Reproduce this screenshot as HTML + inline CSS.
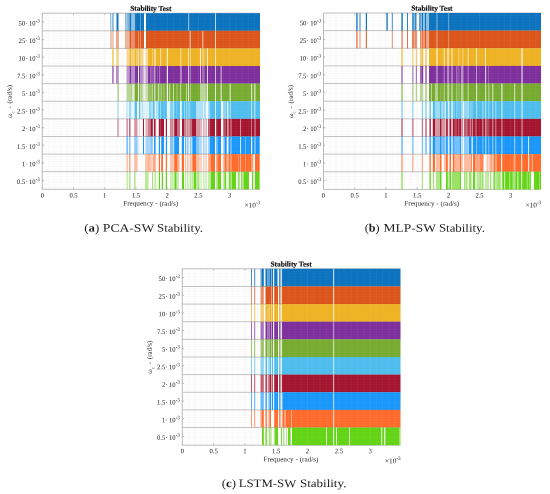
<!DOCTYPE html>
<html><head><meta charset="utf-8"><title>Stability Test</title>
<style>html,body{margin:0;padding:0;background:#fff}svg{display:block}text{font-family:"Liberation Serif","DejaVu Serif",serif}</style>
</head><body>
<svg width="550" height="494" viewBox="0 0 550 494">
<rect width="550" height="494" fill="#fff"/>
<g>
<line x1="42.30" y1="13.2" x2="42.30" y2="189.3" stroke="#ebebeb" stroke-width="0.5"/>
<line x1="48.55" y1="13.2" x2="48.55" y2="189.3" stroke="#f4f4f4" stroke-width="0.5"/>
<line x1="54.79" y1="13.2" x2="54.79" y2="189.3" stroke="#f4f4f4" stroke-width="0.5"/>
<line x1="61.04" y1="13.2" x2="61.04" y2="189.3" stroke="#f4f4f4" stroke-width="0.5"/>
<line x1="67.29" y1="13.2" x2="67.29" y2="189.3" stroke="#f4f4f4" stroke-width="0.5"/>
<line x1="73.53" y1="13.2" x2="73.53" y2="189.3" stroke="#ebebeb" stroke-width="0.5"/>
<line x1="79.78" y1="13.2" x2="79.78" y2="189.3" stroke="#f4f4f4" stroke-width="0.5"/>
<line x1="86.03" y1="13.2" x2="86.03" y2="189.3" stroke="#f4f4f4" stroke-width="0.5"/>
<line x1="92.27" y1="13.2" x2="92.27" y2="189.3" stroke="#f4f4f4" stroke-width="0.5"/>
<line x1="98.52" y1="13.2" x2="98.52" y2="189.3" stroke="#f4f4f4" stroke-width="0.5"/>
<line x1="104.77" y1="13.2" x2="104.77" y2="189.3" stroke="#ebebeb" stroke-width="0.5"/>
<line x1="111.01" y1="13.2" x2="111.01" y2="189.3" stroke="#f4f4f4" stroke-width="0.5"/>
<line x1="117.26" y1="13.2" x2="117.26" y2="189.3" stroke="#f4f4f4" stroke-width="0.5"/>
<line x1="123.51" y1="13.2" x2="123.51" y2="189.3" stroke="#f4f4f4" stroke-width="0.5"/>
<line x1="129.75" y1="13.2" x2="129.75" y2="189.3" stroke="#f4f4f4" stroke-width="0.5"/>
<line x1="136.00" y1="13.2" x2="136.00" y2="189.3" stroke="#ebebeb" stroke-width="0.5"/>
<line x1="142.25" y1="13.2" x2="142.25" y2="189.3" stroke="#f4f4f4" stroke-width="0.5"/>
<line x1="148.50" y1="13.2" x2="148.50" y2="189.3" stroke="#f4f4f4" stroke-width="0.5"/>
<line x1="154.74" y1="13.2" x2="154.74" y2="189.3" stroke="#f4f4f4" stroke-width="0.5"/>
<line x1="160.99" y1="13.2" x2="160.99" y2="189.3" stroke="#f4f4f4" stroke-width="0.5"/>
<line x1="167.24" y1="13.2" x2="167.24" y2="189.3" stroke="#ebebeb" stroke-width="0.5"/>
<line x1="173.48" y1="13.2" x2="173.48" y2="189.3" stroke="#f4f4f4" stroke-width="0.5"/>
<line x1="179.73" y1="13.2" x2="179.73" y2="189.3" stroke="#f4f4f4" stroke-width="0.5"/>
<line x1="185.98" y1="13.2" x2="185.98" y2="189.3" stroke="#f4f4f4" stroke-width="0.5"/>
<line x1="192.22" y1="13.2" x2="192.22" y2="189.3" stroke="#f4f4f4" stroke-width="0.5"/>
<line x1="198.47" y1="13.2" x2="198.47" y2="189.3" stroke="#ebebeb" stroke-width="0.5"/>
<line x1="204.72" y1="13.2" x2="204.72" y2="189.3" stroke="#f4f4f4" stroke-width="0.5"/>
<line x1="210.96" y1="13.2" x2="210.96" y2="189.3" stroke="#f4f4f4" stroke-width="0.5"/>
<line x1="217.21" y1="13.2" x2="217.21" y2="189.3" stroke="#f4f4f4" stroke-width="0.5"/>
<line x1="223.46" y1="13.2" x2="223.46" y2="189.3" stroke="#f4f4f4" stroke-width="0.5"/>
<line x1="229.70" y1="13.2" x2="229.70" y2="189.3" stroke="#ebebeb" stroke-width="0.5"/>
<line x1="235.95" y1="13.2" x2="235.95" y2="189.3" stroke="#f4f4f4" stroke-width="0.5"/>
<line x1="242.20" y1="13.2" x2="242.20" y2="189.3" stroke="#f4f4f4" stroke-width="0.5"/>
<line x1="248.44" y1="13.2" x2="248.44" y2="189.3" stroke="#f4f4f4" stroke-width="0.5"/>
<line x1="254.69" y1="13.2" x2="254.69" y2="189.3" stroke="#f4f4f4" stroke-width="0.5"/>
<line x1="42.3" y1="15.72" x2="260.0" y2="15.72" stroke="#f5f5f5" stroke-width="0.5"/>
<line x1="42.3" y1="18.23" x2="260.0" y2="18.23" stroke="#f5f5f5" stroke-width="0.5"/>
<line x1="42.3" y1="20.75" x2="260.0" y2="20.75" stroke="#f5f5f5" stroke-width="0.5"/>
<line x1="42.3" y1="23.26" x2="260.0" y2="23.26" stroke="#f5f5f5" stroke-width="0.5"/>
<line x1="42.3" y1="25.78" x2="260.0" y2="25.78" stroke="#f5f5f5" stroke-width="0.5"/>
<line x1="42.3" y1="28.29" x2="260.0" y2="28.29" stroke="#f5f5f5" stroke-width="0.5"/>
<line x1="42.3" y1="33.33" x2="260.0" y2="33.33" stroke="#f5f5f5" stroke-width="0.5"/>
<line x1="42.3" y1="35.84" x2="260.0" y2="35.84" stroke="#f5f5f5" stroke-width="0.5"/>
<line x1="42.3" y1="38.36" x2="260.0" y2="38.36" stroke="#f5f5f5" stroke-width="0.5"/>
<line x1="42.3" y1="40.87" x2="260.0" y2="40.87" stroke="#f5f5f5" stroke-width="0.5"/>
<line x1="42.3" y1="43.39" x2="260.0" y2="43.39" stroke="#f5f5f5" stroke-width="0.5"/>
<line x1="42.3" y1="45.90" x2="260.0" y2="45.90" stroke="#f5f5f5" stroke-width="0.5"/>
<line x1="42.3" y1="50.94" x2="260.0" y2="50.94" stroke="#f5f5f5" stroke-width="0.5"/>
<line x1="42.3" y1="53.45" x2="260.0" y2="53.45" stroke="#f5f5f5" stroke-width="0.5"/>
<line x1="42.3" y1="55.97" x2="260.0" y2="55.97" stroke="#f5f5f5" stroke-width="0.5"/>
<line x1="42.3" y1="58.48" x2="260.0" y2="58.48" stroke="#f5f5f5" stroke-width="0.5"/>
<line x1="42.3" y1="61.00" x2="260.0" y2="61.00" stroke="#f5f5f5" stroke-width="0.5"/>
<line x1="42.3" y1="63.51" x2="260.0" y2="63.51" stroke="#f5f5f5" stroke-width="0.5"/>
<line x1="42.3" y1="68.55" x2="260.0" y2="68.55" stroke="#f5f5f5" stroke-width="0.5"/>
<line x1="42.3" y1="71.06" x2="260.0" y2="71.06" stroke="#f5f5f5" stroke-width="0.5"/>
<line x1="42.3" y1="73.58" x2="260.0" y2="73.58" stroke="#f5f5f5" stroke-width="0.5"/>
<line x1="42.3" y1="76.09" x2="260.0" y2="76.09" stroke="#f5f5f5" stroke-width="0.5"/>
<line x1="42.3" y1="78.61" x2="260.0" y2="78.61" stroke="#f5f5f5" stroke-width="0.5"/>
<line x1="42.3" y1="81.12" x2="260.0" y2="81.12" stroke="#f5f5f5" stroke-width="0.5"/>
<line x1="42.3" y1="86.16" x2="260.0" y2="86.16" stroke="#f5f5f5" stroke-width="0.5"/>
<line x1="42.3" y1="88.67" x2="260.0" y2="88.67" stroke="#f5f5f5" stroke-width="0.5"/>
<line x1="42.3" y1="91.19" x2="260.0" y2="91.19" stroke="#f5f5f5" stroke-width="0.5"/>
<line x1="42.3" y1="93.70" x2="260.0" y2="93.70" stroke="#f5f5f5" stroke-width="0.5"/>
<line x1="42.3" y1="96.22" x2="260.0" y2="96.22" stroke="#f5f5f5" stroke-width="0.5"/>
<line x1="42.3" y1="98.73" x2="260.0" y2="98.73" stroke="#f5f5f5" stroke-width="0.5"/>
<line x1="42.3" y1="103.77" x2="260.0" y2="103.77" stroke="#f5f5f5" stroke-width="0.5"/>
<line x1="42.3" y1="106.28" x2="260.0" y2="106.28" stroke="#f5f5f5" stroke-width="0.5"/>
<line x1="42.3" y1="108.80" x2="260.0" y2="108.80" stroke="#f5f5f5" stroke-width="0.5"/>
<line x1="42.3" y1="111.31" x2="260.0" y2="111.31" stroke="#f5f5f5" stroke-width="0.5"/>
<line x1="42.3" y1="113.83" x2="260.0" y2="113.83" stroke="#f5f5f5" stroke-width="0.5"/>
<line x1="42.3" y1="116.34" x2="260.0" y2="116.34" stroke="#f5f5f5" stroke-width="0.5"/>
<line x1="42.3" y1="121.38" x2="260.0" y2="121.38" stroke="#f5f5f5" stroke-width="0.5"/>
<line x1="42.3" y1="123.89" x2="260.0" y2="123.89" stroke="#f5f5f5" stroke-width="0.5"/>
<line x1="42.3" y1="126.41" x2="260.0" y2="126.41" stroke="#f5f5f5" stroke-width="0.5"/>
<line x1="42.3" y1="128.92" x2="260.0" y2="128.92" stroke="#f5f5f5" stroke-width="0.5"/>
<line x1="42.3" y1="131.44" x2="260.0" y2="131.44" stroke="#f5f5f5" stroke-width="0.5"/>
<line x1="42.3" y1="133.95" x2="260.0" y2="133.95" stroke="#f5f5f5" stroke-width="0.5"/>
<line x1="42.3" y1="138.99" x2="260.0" y2="138.99" stroke="#f5f5f5" stroke-width="0.5"/>
<line x1="42.3" y1="141.50" x2="260.0" y2="141.50" stroke="#f5f5f5" stroke-width="0.5"/>
<line x1="42.3" y1="144.02" x2="260.0" y2="144.02" stroke="#f5f5f5" stroke-width="0.5"/>
<line x1="42.3" y1="146.53" x2="260.0" y2="146.53" stroke="#f5f5f5" stroke-width="0.5"/>
<line x1="42.3" y1="149.05" x2="260.0" y2="149.05" stroke="#f5f5f5" stroke-width="0.5"/>
<line x1="42.3" y1="151.56" x2="260.0" y2="151.56" stroke="#f5f5f5" stroke-width="0.5"/>
<line x1="42.3" y1="156.60" x2="260.0" y2="156.60" stroke="#f5f5f5" stroke-width="0.5"/>
<line x1="42.3" y1="159.11" x2="260.0" y2="159.11" stroke="#f5f5f5" stroke-width="0.5"/>
<line x1="42.3" y1="161.63" x2="260.0" y2="161.63" stroke="#f5f5f5" stroke-width="0.5"/>
<line x1="42.3" y1="164.14" x2="260.0" y2="164.14" stroke="#f5f5f5" stroke-width="0.5"/>
<line x1="42.3" y1="166.66" x2="260.0" y2="166.66" stroke="#f5f5f5" stroke-width="0.5"/>
<line x1="42.3" y1="169.17" x2="260.0" y2="169.17" stroke="#f5f5f5" stroke-width="0.5"/>
<line x1="42.3" y1="174.21" x2="260.0" y2="174.21" stroke="#f5f5f5" stroke-width="0.5"/>
<line x1="42.3" y1="176.72" x2="260.0" y2="176.72" stroke="#f5f5f5" stroke-width="0.5"/>
<line x1="42.3" y1="179.24" x2="260.0" y2="179.24" stroke="#f5f5f5" stroke-width="0.5"/>
<line x1="42.3" y1="181.75" x2="260.0" y2="181.75" stroke="#f5f5f5" stroke-width="0.5"/>
<line x1="42.3" y1="184.27" x2="260.0" y2="184.27" stroke="#f5f5f5" stroke-width="0.5"/>
<line x1="42.3" y1="186.78" x2="260.0" y2="186.78" stroke="#f5f5f5" stroke-width="0.5"/>
<line x1="42.3" y1="30.81" x2="260.0" y2="30.81" stroke="#c0c0c0" stroke-width="1"/>
<line x1="42.3" y1="48.42" x2="260.0" y2="48.42" stroke="#c0c0c0" stroke-width="1"/>
<line x1="42.3" y1="66.03" x2="260.0" y2="66.03" stroke="#c0c0c0" stroke-width="1"/>
<line x1="42.3" y1="83.64" x2="260.0" y2="83.64" stroke="#c0c0c0" stroke-width="1"/>
<line x1="42.3" y1="101.25" x2="260.0" y2="101.25" stroke="#c0c0c0" stroke-width="1"/>
<line x1="42.3" y1="118.86" x2="260.0" y2="118.86" stroke="#c0c0c0" stroke-width="1"/>
<line x1="42.3" y1="136.47" x2="260.0" y2="136.47" stroke="#c0c0c0" stroke-width="1"/>
<line x1="42.3" y1="154.08" x2="260.0" y2="154.08" stroke="#c0c0c0" stroke-width="1"/>
<line x1="42.3" y1="171.69" x2="260.0" y2="171.69" stroke="#c0c0c0" stroke-width="1"/>
<line x1="42.30" y1="189.3" x2="42.30" y2="187.5" stroke="#777" stroke-width="0.5"/>
<line x1="42.30" y1="13.2" x2="42.30" y2="15.0" stroke="#777" stroke-width="0.5"/>
<line x1="73.53" y1="189.3" x2="73.53" y2="187.5" stroke="#777" stroke-width="0.5"/>
<line x1="73.53" y1="13.2" x2="73.53" y2="15.0" stroke="#777" stroke-width="0.5"/>
<line x1="104.77" y1="189.3" x2="104.77" y2="187.5" stroke="#777" stroke-width="0.5"/>
<line x1="104.77" y1="13.2" x2="104.77" y2="15.0" stroke="#777" stroke-width="0.5"/>
<line x1="136.00" y1="189.3" x2="136.00" y2="187.5" stroke="#777" stroke-width="0.5"/>
<line x1="136.00" y1="13.2" x2="136.00" y2="15.0" stroke="#777" stroke-width="0.5"/>
<line x1="167.24" y1="189.3" x2="167.24" y2="187.5" stroke="#777" stroke-width="0.5"/>
<line x1="167.24" y1="13.2" x2="167.24" y2="15.0" stroke="#777" stroke-width="0.5"/>
<line x1="198.47" y1="189.3" x2="198.47" y2="187.5" stroke="#777" stroke-width="0.5"/>
<line x1="198.47" y1="13.2" x2="198.47" y2="15.0" stroke="#777" stroke-width="0.5"/>
<line x1="229.70" y1="189.3" x2="229.70" y2="187.5" stroke="#777" stroke-width="0.5"/>
<line x1="229.70" y1="13.2" x2="229.70" y2="15.0" stroke="#777" stroke-width="0.5"/>
<path d="M42.3 13.2H260.0M42.3 13.2V189.3H260.0" fill="none" stroke="#bcbcbc" stroke-width="1"/>
<rect x="110.00" y="13.20" width="1.20" height="17.61" fill="#0A72BE" fill-opacity="0.42"/>
<rect x="111.80" y="13.20" width="2.00" height="17.61" fill="#0A72BE" fill-opacity="0.48"/>
<rect x="116.50" y="13.20" width="2.00" height="17.61" fill="#0A72BE" fill-opacity="1"/>
<rect x="125.00" y="13.20" width="1.50" height="17.61" fill="#0A72BE" fill-opacity="0.48"/>
<rect x="126.50" y="13.20" width="0.70" height="17.61" fill="#0A72BE" fill-opacity="0.3"/>
<rect x="127.20" y="13.20" width="2.30" height="17.61" fill="#0A72BE" fill-opacity="0.55"/>
<rect x="129.50" y="13.20" width="1.70" height="17.61" fill="#0A72BE" fill-opacity="1"/>
<rect x="131.20" y="13.20" width="3.80" height="17.61" fill="#0A72BE" fill-opacity="0.44"/>
<rect x="135.00" y="13.20" width="5.00" height="17.61" fill="#0A72BE" fill-opacity="1"/>
<rect x="140.00" y="13.20" width="0.50" height="17.61" fill="#0A72BE" fill-opacity="0.72"/>
<rect x="140.50" y="13.20" width="3.50" height="17.61" fill="#0A72BE" fill-opacity="1"/>
<rect x="146.00" y="13.20" width="114.00" height="17.61" fill="#0A72BE" fill-opacity="1"/>
<rect x="188.20" y="13.20" width="1.00" height="17.61" fill="#fff" fill-opacity="0.6"/>
<rect x="215.00" y="13.20" width="0.80" height="17.61" fill="#fff" fill-opacity="0.9"/>
<rect x="110.00" y="30.81" width="3.80" height="17.61" fill="#DC541A" fill-opacity="0.33"/>
<rect x="116.00" y="30.81" width="3.00" height="17.61" fill="#DC541A" fill-opacity="0.5"/>
<rect x="125.00" y="30.81" width="4.50" height="17.61" fill="#DC541A" fill-opacity="0.44"/>
<rect x="129.50" y="30.81" width="1.70" height="17.61" fill="#DC541A" fill-opacity="1"/>
<rect x="131.20" y="30.81" width="3.80" height="17.61" fill="#DC541A" fill-opacity="0.66"/>
<rect x="135.00" y="30.81" width="3.00" height="17.61" fill="#DC541A" fill-opacity="1"/>
<rect x="138.00" y="30.81" width="0.70" height="17.61" fill="#DC541A" fill-opacity="0.72"/>
<rect x="138.70" y="30.81" width="1.30" height="17.61" fill="#DC541A" fill-opacity="1"/>
<rect x="140.00" y="30.81" width="0.60" height="17.61" fill="#DC541A" fill-opacity="0.72"/>
<rect x="140.60" y="30.81" width="3.40" height="17.61" fill="#DC541A" fill-opacity="1"/>
<rect x="146.00" y="30.81" width="114.00" height="17.61" fill="#DC541A" fill-opacity="1"/>
<rect x="189.50" y="30.81" width="1.50" height="17.61" fill="#fff" fill-opacity="0.5"/>
<rect x="202.00" y="30.81" width="1.50" height="17.61" fill="#fff" fill-opacity="0.45"/>
<rect x="215.00" y="30.81" width="0.80" height="17.61" fill="#fff" fill-opacity="0.9"/>
<rect x="112.00" y="48.42" width="1.80" height="17.61" fill="#EEB222" fill-opacity="0.6"/>
<rect x="116.20" y="48.42" width="2.60" height="17.61" fill="#EEB222" fill-opacity="0.55"/>
<rect x="126.50" y="48.42" width="3.00" height="17.61" fill="#EEB222" fill-opacity="0.5"/>
<rect x="129.50" y="48.42" width="1.70" height="17.61" fill="#EEB222" fill-opacity="1"/>
<rect x="131.20" y="48.42" width="3.80" height="17.61" fill="#EEB222" fill-opacity="0.61"/>
<rect x="135.00" y="48.42" width="1.20" height="17.61" fill="#EEB222" fill-opacity="1"/>
<rect x="136.20" y="48.42" width="1.80" height="17.61" fill="#EEB222" fill-opacity="0.72"/>
<rect x="138.70" y="48.42" width="1.30" height="17.61" fill="#EEB222" fill-opacity="1"/>
<rect x="140.00" y="48.42" width="3.50" height="17.61" fill="#EEB222" fill-opacity="0.55"/>
<rect x="145.50" y="48.42" width="2.50" height="17.61" fill="#EEB222" fill-opacity="0.44"/>
<rect x="148.00" y="48.42" width="4.00" height="17.61" fill="#EEB222" fill-opacity="1"/>
<rect x="152.00" y="48.42" width="0.80" height="17.61" fill="#EEB222" fill-opacity="0.72"/>
<rect x="152.80" y="48.42" width="1.40" height="17.61" fill="#EEB222" fill-opacity="1"/>
<rect x="154.20" y="48.42" width="1.40" height="17.61" fill="#EEB222" fill-opacity="0.36"/>
<rect x="155.60" y="48.42" width="104.40" height="17.61" fill="#EEB222" fill-opacity="1"/>
<rect x="160.00" y="48.42" width="1.20" height="17.61" fill="#fff" fill-opacity="0.5"/>
<rect x="166.80" y="48.42" width="1.00" height="17.61" fill="#fff" fill-opacity="0.9"/>
<rect x="180.00" y="48.42" width="1.50" height="17.61" fill="#fff" fill-opacity="0.4"/>
<rect x="188.00" y="48.42" width="1.00" height="17.61" fill="#fff" fill-opacity="0.7"/>
<rect x="190.00" y="48.42" width="0.80" height="17.61" fill="#fff" fill-opacity="0.5"/>
<rect x="200.00" y="48.42" width="1.00" height="17.61" fill="#fff" fill-opacity="0.8"/>
<rect x="202.00" y="48.42" width="2.50" height="17.61" fill="#fff" fill-opacity="0.3"/>
<rect x="207.00" y="48.42" width="1.00" height="17.61" fill="#fff" fill-opacity="0.8"/>
<rect x="215.00" y="48.42" width="0.80" height="17.61" fill="#fff" fill-opacity="0.85"/>
<rect x="112.00" y="66.03" width="1.80" height="17.61" fill="#7D2E9C" fill-opacity="0.6"/>
<rect x="116.00" y="66.03" width="2.80" height="17.61" fill="#7D2E9C" fill-opacity="0.55"/>
<rect x="126.50" y="66.03" width="3.00" height="17.61" fill="#7D2E9C" fill-opacity="0.5"/>
<rect x="129.50" y="66.03" width="1.70" height="17.61" fill="#7D2E9C" fill-opacity="1"/>
<rect x="131.20" y="66.03" width="3.80" height="17.61" fill="#7D2E9C" fill-opacity="0.55"/>
<rect x="135.00" y="66.03" width="3.00" height="17.61" fill="#7D2E9C" fill-opacity="1"/>
<rect x="139.00" y="66.03" width="1.20" height="17.61" fill="#7D2E9C" fill-opacity="1"/>
<rect x="140.20" y="66.03" width="3.30" height="17.61" fill="#7D2E9C" fill-opacity="0.55"/>
<rect x="143.50" y="66.03" width="2.00" height="17.61" fill="#7D2E9C" fill-opacity="0.18"/>
<rect x="145.50" y="66.03" width="2.50" height="17.61" fill="#7D2E9C" fill-opacity="0.44"/>
<rect x="148.00" y="66.03" width="2.50" height="17.61" fill="#7D2E9C" fill-opacity="1"/>
<rect x="150.50" y="66.03" width="3.50" height="17.61" fill="#7D2E9C" fill-opacity="0.83"/>
<rect x="154.00" y="66.03" width="0.80" height="17.61" fill="#7D2E9C" fill-opacity="0.48"/>
<rect x="154.80" y="66.03" width="1.20" height="17.61" fill="#7D2E9C" fill-opacity="1"/>
<rect x="156.00" y="66.03" width="104.00" height="17.61" fill="#7D2E9C" fill-opacity="1"/>
<rect x="155.00" y="66.03" width="0.80" height="17.61" fill="#fff" fill-opacity="0.3"/>
<rect x="157.50" y="66.03" width="0.50" height="17.61" fill="#fff" fill-opacity="0.3"/>
<rect x="159.00" y="66.03" width="0.80" height="17.61" fill="#fff" fill-opacity="0.4"/>
<rect x="166.80" y="66.03" width="1.20" height="17.61" fill="#fff" fill-opacity="0.9"/>
<rect x="180.00" y="66.03" width="2.00" height="17.61" fill="#fff" fill-opacity="0.4"/>
<rect x="188.00" y="66.03" width="1.20" height="17.61" fill="#fff" fill-opacity="0.7"/>
<rect x="190.00" y="66.03" width="0.80" height="17.61" fill="#fff" fill-opacity="0.4"/>
<rect x="200.00" y="66.03" width="1.00" height="17.61" fill="#fff" fill-opacity="0.7"/>
<rect x="202.00" y="66.03" width="2.50" height="17.61" fill="#fff" fill-opacity="0.3"/>
<rect x="207.00" y="66.03" width="1.00" height="17.61" fill="#fff" fill-opacity="0.8"/>
<rect x="215.00" y="66.03" width="0.80" height="17.61" fill="#fff" fill-opacity="0.85"/>
<rect x="220.50" y="66.03" width="1.30" height="17.61" fill="#fff" fill-opacity="0.55"/>
<rect x="117.50" y="83.64" width="1.30" height="17.61" fill="#76AB2F" fill-opacity="0.66"/>
<rect x="126.50" y="83.64" width="4.70" height="17.61" fill="#76AB2F" fill-opacity="0.5"/>
<rect x="131.20" y="83.64" width="1.00" height="17.61" fill="#76AB2F" fill-opacity="0.66"/>
<rect x="132.20" y="83.64" width="1.80" height="17.61" fill="#76AB2F" fill-opacity="0.18"/>
<rect x="134.00" y="83.64" width="1.00" height="17.61" fill="#76AB2F" fill-opacity="0.48"/>
<rect x="135.00" y="83.64" width="3.00" height="17.61" fill="#76AB2F" fill-opacity="1"/>
<rect x="139.00" y="83.64" width="1.20" height="17.61" fill="#76AB2F" fill-opacity="1"/>
<rect x="140.20" y="83.64" width="1.00" height="17.61" fill="#76AB2F" fill-opacity="0.36"/>
<rect x="141.20" y="83.64" width="1.00" height="17.61" fill="#76AB2F" fill-opacity="0.72"/>
<rect x="142.20" y="83.64" width="1.30" height="17.61" fill="#76AB2F" fill-opacity="0.36"/>
<rect x="143.50" y="83.64" width="2.00" height="17.61" fill="#76AB2F" fill-opacity="0.12"/>
<rect x="145.50" y="83.64" width="2.50" height="17.61" fill="#76AB2F" fill-opacity="0.39"/>
<rect x="148.00" y="83.64" width="4.00" height="17.61" fill="#76AB2F" fill-opacity="0.77"/>
<rect x="152.00" y="83.64" width="0.80" height="17.61" fill="#76AB2F" fill-opacity="0.48"/>
<rect x="152.80" y="83.64" width="1.20" height="17.61" fill="#76AB2F" fill-opacity="1"/>
<rect x="154.00" y="83.64" width="1.00" height="17.61" fill="#76AB2F" fill-opacity="0.36"/>
<rect x="155.00" y="83.64" width="105.00" height="17.61" fill="#76AB2F" fill-opacity="1"/>
<rect x="155.00" y="83.64" width="0.80" height="17.61" fill="#fff" fill-opacity="0.4"/>
<rect x="157.80" y="83.64" width="1.00" height="17.61" fill="#fff" fill-opacity="0.7"/>
<rect x="159.50" y="83.64" width="1.00" height="17.61" fill="#fff" fill-opacity="0.4"/>
<rect x="161.20" y="83.64" width="1.00" height="17.61" fill="#fff" fill-opacity="0.4"/>
<rect x="163.50" y="83.64" width="1.00" height="17.61" fill="#fff" fill-opacity="0.4"/>
<rect x="166.80" y="83.64" width="1.20" height="17.61" fill="#fff" fill-opacity="0.95"/>
<rect x="169.00" y="83.64" width="1.20" height="17.61" fill="#fff" fill-opacity="0.5"/>
<rect x="173.00" y="83.64" width="1.00" height="17.61" fill="#fff" fill-opacity="0.6"/>
<rect x="176.50" y="83.64" width="1.00" height="17.61" fill="#fff" fill-opacity="0.35"/>
<rect x="180.00" y="83.64" width="1.20" height="17.61" fill="#fff" fill-opacity="0.5"/>
<rect x="186.00" y="83.64" width="1.00" height="17.61" fill="#fff" fill-opacity="0.5"/>
<rect x="188.00" y="83.64" width="1.00" height="17.61" fill="#fff" fill-opacity="0.8"/>
<rect x="190.00" y="83.64" width="0.80" height="17.61" fill="#fff" fill-opacity="0.5"/>
<rect x="200.00" y="83.64" width="4.50" height="17.61" fill="#fff" fill-opacity="0.5"/>
<rect x="204.50" y="83.64" width="1.00" height="17.61" fill="#fff" fill-opacity="0.8"/>
<rect x="206.50" y="83.64" width="1.50" height="17.61" fill="#fff" fill-opacity="0.85"/>
<rect x="215.00" y="83.64" width="1.00" height="17.61" fill="#fff" fill-opacity="0.8"/>
<rect x="220.50" y="83.64" width="1.30" height="17.61" fill="#fff" fill-opacity="0.7"/>
<rect x="229.50" y="83.64" width="1.50" height="17.61" fill="#fff" fill-opacity="0.55"/>
<rect x="251.00" y="83.64" width="1.20" height="17.61" fill="#fff" fill-opacity="0.7"/>
<rect x="254.00" y="83.64" width="1.50" height="17.61" fill="#fff" fill-opacity="0.6"/>
<rect x="117.50" y="101.25" width="1.00" height="17.61" fill="#4DBDEE" fill-opacity="0.66"/>
<rect x="126.50" y="101.25" width="1.00" height="17.61" fill="#4DBDEE" fill-opacity="0.48"/>
<rect x="127.50" y="101.25" width="1.50" height="17.61" fill="#4DBDEE" fill-opacity="0.12"/>
<rect x="129.00" y="101.25" width="2.20" height="17.61" fill="#4DBDEE" fill-opacity="0.55"/>
<rect x="131.20" y="101.25" width="2.80" height="17.61" fill="#4DBDEE" fill-opacity="0.11"/>
<rect x="134.00" y="101.25" width="1.00" height="17.61" fill="#4DBDEE" fill-opacity="0.48"/>
<rect x="135.00" y="101.25" width="2.00" height="17.61" fill="#4DBDEE" fill-opacity="1"/>
<rect x="139.00" y="101.25" width="1.20" height="17.61" fill="#4DBDEE" fill-opacity="1"/>
<rect x="140.20" y="101.25" width="2.00" height="17.61" fill="#4DBDEE" fill-opacity="0.18"/>
<rect x="142.20" y="101.25" width="0.80" height="17.61" fill="#4DBDEE" fill-opacity="0.48"/>
<rect x="143.00" y="101.25" width="6.00" height="17.61" fill="#4DBDEE" fill-opacity="0.17"/>
<rect x="149.00" y="101.25" width="2.50" height="17.61" fill="#4DBDEE" fill-opacity="0.66"/>
<rect x="151.50" y="101.25" width="1.30" height="17.61" fill="#4DBDEE" fill-opacity="0.36"/>
<rect x="152.80" y="101.25" width="1.70" height="17.61" fill="#4DBDEE" fill-opacity="1"/>
<rect x="154.50" y="101.25" width="0.50" height="17.61" fill="#4DBDEE" fill-opacity="0.3"/>
<rect x="155.00" y="101.25" width="105.00" height="17.61" fill="#4DBDEE" fill-opacity="1"/>
<rect x="155.00" y="101.25" width="1.20" height="17.61" fill="#fff" fill-opacity="0.8"/>
<rect x="156.20" y="101.25" width="2.30" height="17.61" fill="#fff" fill-opacity="0.6"/>
<rect x="160.00" y="101.25" width="1.00" height="17.61" fill="#fff" fill-opacity="0.4"/>
<rect x="163.50" y="101.25" width="1.00" height="17.61" fill="#fff" fill-opacity="0.2"/>
<rect x="166.80" y="101.25" width="3.20" height="17.61" fill="#fff" fill-opacity="0.85"/>
<rect x="170.00" y="101.25" width="3.00" height="17.61" fill="#fff" fill-opacity="0.3"/>
<rect x="173.00" y="101.25" width="1.20" height="17.61" fill="#fff" fill-opacity="0.6"/>
<rect x="176.50" y="101.25" width="0.70" height="17.61" fill="#fff" fill-opacity="0.3"/>
<rect x="180.00" y="101.25" width="1.80" height="17.61" fill="#fff" fill-opacity="0.9"/>
<rect x="184.00" y="101.25" width="1.00" height="17.61" fill="#fff" fill-opacity="0.4"/>
<rect x="186.20" y="101.25" width="1.00" height="17.61" fill="#fff" fill-opacity="0.5"/>
<rect x="188.50" y="101.25" width="1.00" height="17.61" fill="#fff" fill-opacity="0.6"/>
<rect x="190.50" y="101.25" width="0.70" height="17.61" fill="#fff" fill-opacity="0.2"/>
<rect x="196.00" y="101.25" width="7.00" height="17.61" fill="#fff" fill-opacity="0.55"/>
<rect x="203.00" y="101.25" width="1.20" height="17.61" fill="#fff" fill-opacity="0.8"/>
<rect x="204.20" y="101.25" width="1.80" height="17.61" fill="#fff" fill-opacity="0.55"/>
<rect x="206.00" y="101.25" width="2.20" height="17.61" fill="#fff" fill-opacity="0.95"/>
<rect x="208.20" y="101.25" width="1.60" height="17.61" fill="#fff" fill-opacity="0.5"/>
<rect x="215.00" y="101.25" width="1.00" height="17.61" fill="#fff" fill-opacity="0.8"/>
<rect x="221.00" y="101.25" width="2.00" height="17.61" fill="#fff" fill-opacity="0.95"/>
<rect x="223.00" y="101.25" width="3.00" height="17.61" fill="#fff" fill-opacity="0.35"/>
<rect x="226.80" y="101.25" width="1.70" height="17.61" fill="#fff" fill-opacity="0.8"/>
<rect x="229.80" y="101.25" width="1.20" height="17.61" fill="#fff" fill-opacity="0.5"/>
<rect x="251.00" y="101.25" width="1.20" height="17.61" fill="#fff" fill-opacity="0.6"/>
<rect x="254.00" y="101.25" width="1.50" height="17.61" fill="#fff" fill-opacity="0.5"/>
<rect x="117.50" y="118.86" width="1.00" height="17.61" fill="#A4142E" fill-opacity="0.66"/>
<rect x="126.50" y="118.86" width="1.30" height="17.61" fill="#A4142E" fill-opacity="0.54"/>
<rect x="129.00" y="118.86" width="1.50" height="17.61" fill="#A4142E" fill-opacity="0.66"/>
<rect x="134.00" y="118.86" width="1.00" height="17.61" fill="#A4142E" fill-opacity="0.36"/>
<rect x="135.00" y="118.86" width="2.50" height="17.61" fill="#A4142E" fill-opacity="0.44"/>
<rect x="139.00" y="118.86" width="1.20" height="17.61" fill="#A4142E" fill-opacity="0.12"/>
<rect x="143.00" y="118.86" width="1.00" height="17.61" fill="#A4142E" fill-opacity="1"/>
<rect x="145.50" y="118.86" width="2.50" height="17.61" fill="#A4142E" fill-opacity="0.33"/>
<rect x="148.00" y="118.86" width="2.50" height="17.61" fill="#A4142E" fill-opacity="0.55"/>
<rect x="150.50" y="118.86" width="2.30" height="17.61" fill="#A4142E" fill-opacity="1"/>
<rect x="152.80" y="118.86" width="1.20" height="17.61" fill="#A4142E" fill-opacity="0.12"/>
<rect x="154.00" y="118.86" width="1.50" height="17.61" fill="#A4142E" fill-opacity="1"/>
<rect x="155.50" y="118.86" width="0.70" height="17.61" fill="#A4142E" fill-opacity="0.36"/>
<rect x="158.80" y="118.86" width="1.20" height="17.61" fill="#A4142E" fill-opacity="1"/>
<rect x="160.00" y="118.86" width="1.00" height="17.61" fill="#A4142E" fill-opacity="0.84"/>
<rect x="161.00" y="118.86" width="3.00" height="17.61" fill="#A4142E" fill-opacity="1"/>
<rect x="165.80" y="118.86" width="1.20" height="17.61" fill="#A4142E" fill-opacity="1"/>
<rect x="170.00" y="118.86" width="3.00" height="17.61" fill="#A4142E" fill-opacity="0.5"/>
<rect x="173.00" y="118.86" width="1.20" height="17.61" fill="#A4142E" fill-opacity="0.3"/>
<rect x="174.20" y="118.86" width="3.30" height="17.61" fill="#A4142E" fill-opacity="1"/>
<rect x="177.50" y="118.86" width="2.50" height="17.61" fill="#A4142E" fill-opacity="0.61"/>
<rect x="182.00" y="118.86" width="2.00" height="17.61" fill="#A4142E" fill-opacity="1"/>
<rect x="184.00" y="118.86" width="2.20" height="17.61" fill="#A4142E" fill-opacity="0.55"/>
<rect x="186.20" y="118.86" width="1.00" height="17.61" fill="#A4142E" fill-opacity="0.3"/>
<rect x="187.20" y="118.86" width="1.30" height="17.61" fill="#A4142E" fill-opacity="0.6"/>
<rect x="188.50" y="118.86" width="1.00" height="17.61" fill="#A4142E" fill-opacity="0.24"/>
<rect x="189.50" y="118.86" width="1.30" height="17.61" fill="#A4142E" fill-opacity="0.72"/>
<rect x="190.80" y="118.86" width="0.70" height="17.61" fill="#A4142E" fill-opacity="0.36"/>
<rect x="191.50" y="118.86" width="4.50" height="17.61" fill="#A4142E" fill-opacity="1"/>
<rect x="196.00" y="118.86" width="4.00" height="17.61" fill="#A4142E" fill-opacity="0.44"/>
<rect x="200.00" y="118.86" width="2.00" height="17.61" fill="#A4142E" fill-opacity="0.3"/>
<rect x="203.00" y="118.86" width="1.50" height="17.61" fill="#A4142E" fill-opacity="0.36"/>
<rect x="205.50" y="118.86" width="1.30" height="17.61" fill="#A4142E" fill-opacity="0.4"/>
<rect x="208.00" y="118.86" width="1.80" height="17.61" fill="#A4142E" fill-opacity="0.72"/>
<rect x="209.80" y="118.86" width="5.20" height="17.61" fill="#A4142E" fill-opacity="1"/>
<rect x="216.20" y="118.86" width="4.80" height="17.61" fill="#A4142E" fill-opacity="1"/>
<rect x="223.20" y="118.86" width="2.80" height="17.61" fill="#A4142E" fill-opacity="0.77"/>
<rect x="226.00" y="118.86" width="1.00" height="17.61" fill="#A4142E" fill-opacity="1"/>
<rect x="227.00" y="118.86" width="1.50" height="17.61" fill="#A4142E" fill-opacity="0.42"/>
<rect x="228.50" y="118.86" width="1.50" height="17.61" fill="#A4142E" fill-opacity="1"/>
<rect x="230.00" y="118.86" width="1.80" height="17.61" fill="#A4142E" fill-opacity="0.72"/>
<rect x="231.80" y="118.86" width="8.20" height="17.61" fill="#A4142E" fill-opacity="1"/>
<rect x="240.00" y="118.86" width="0.80" height="17.61" fill="#A4142E" fill-opacity="0.48"/>
<rect x="240.80" y="118.86" width="10.20" height="17.61" fill="#A4142E" fill-opacity="1"/>
<rect x="251.00" y="118.86" width="1.00" height="17.61" fill="#A4142E" fill-opacity="0.6"/>
<rect x="252.00" y="118.86" width="2.00" height="17.61" fill="#A4142E" fill-opacity="1"/>
<rect x="254.00" y="118.86" width="1.50" height="17.61" fill="#A4142E" fill-opacity="0.72"/>
<rect x="255.50" y="118.86" width="4.50" height="17.61" fill="#A4142E" fill-opacity="1"/>
<rect x="126.50" y="136.47" width="1.30" height="17.61" fill="#1896FA" fill-opacity="0.72"/>
<rect x="129.00" y="136.47" width="1.50" height="17.61" fill="#1896FA" fill-opacity="0.54"/>
<rect x="134.00" y="136.47" width="1.00" height="17.61" fill="#1896FA" fill-opacity="0.36"/>
<rect x="135.00" y="136.47" width="2.50" height="17.61" fill="#1896FA" fill-opacity="0.5"/>
<rect x="137.50" y="136.47" width="2.00" height="17.61" fill="#1896FA" fill-opacity="0.12"/>
<rect x="143.00" y="136.47" width="1.00" height="17.61" fill="#1896FA" fill-opacity="1"/>
<rect x="145.50" y="136.47" width="5.00" height="17.61" fill="#1896FA" fill-opacity="0.39"/>
<rect x="150.50" y="136.47" width="2.30" height="17.61" fill="#1896FA" fill-opacity="0.55"/>
<rect x="154.00" y="136.47" width="1.50" height="17.61" fill="#1896FA" fill-opacity="1"/>
<rect x="155.50" y="136.47" width="0.70" height="17.61" fill="#1896FA" fill-opacity="0.36"/>
<rect x="158.80" y="136.47" width="1.20" height="17.61" fill="#1896FA" fill-opacity="1"/>
<rect x="161.20" y="136.47" width="2.80" height="17.61" fill="#1896FA" fill-opacity="1"/>
<rect x="165.80" y="136.47" width="1.20" height="17.61" fill="#1896FA" fill-opacity="1"/>
<rect x="170.00" y="136.47" width="3.00" height="17.61" fill="#1896FA" fill-opacity="0.55"/>
<rect x="173.00" y="136.47" width="1.20" height="17.61" fill="#1896FA" fill-opacity="0.3"/>
<rect x="174.20" y="136.47" width="4.80" height="17.61" fill="#1896FA" fill-opacity="1"/>
<rect x="181.80" y="136.47" width="2.20" height="17.61" fill="#1896FA" fill-opacity="1"/>
<rect x="185.00" y="136.47" width="1.20" height="17.61" fill="#1896FA" fill-opacity="0.72"/>
<rect x="187.20" y="136.47" width="1.30" height="17.61" fill="#1896FA" fill-opacity="0.6"/>
<rect x="189.80" y="136.47" width="1.00" height="17.61" fill="#1896FA" fill-opacity="0.6"/>
<rect x="191.60" y="136.47" width="1.40" height="17.61" fill="#1896FA" fill-opacity="0.72"/>
<rect x="193.00" y="136.47" width="3.00" height="17.61" fill="#1896FA" fill-opacity="1"/>
<rect x="196.00" y="136.47" width="3.00" height="17.61" fill="#1896FA" fill-opacity="0.55"/>
<rect x="199.00" y="136.47" width="3.00" height="17.61" fill="#1896FA" fill-opacity="0.33"/>
<rect x="203.20" y="136.47" width="1.30" height="17.61" fill="#1896FA" fill-opacity="0.48"/>
<rect x="205.50" y="136.47" width="1.30" height="17.61" fill="#1896FA" fill-opacity="0.42"/>
<rect x="208.20" y="136.47" width="1.60" height="17.61" fill="#1896FA" fill-opacity="0.48"/>
<rect x="209.80" y="136.47" width="5.20" height="17.61" fill="#1896FA" fill-opacity="1"/>
<rect x="216.20" y="136.47" width="1.80" height="17.61" fill="#1896FA" fill-opacity="0.72"/>
<rect x="218.00" y="136.47" width="3.00" height="17.61" fill="#1896FA" fill-opacity="1"/>
<rect x="223.20" y="136.47" width="1.30" height="17.61" fill="#1896FA" fill-opacity="0.48"/>
<rect x="224.50" y="136.47" width="1.50" height="17.61" fill="#1896FA" fill-opacity="1"/>
<rect x="226.00" y="136.47" width="1.00" height="17.61" fill="#1896FA" fill-opacity="0.72"/>
<rect x="228.50" y="136.47" width="1.50" height="17.61" fill="#1896FA" fill-opacity="1"/>
<rect x="230.00" y="136.47" width="2.00" height="17.61" fill="#1896FA" fill-opacity="0.66"/>
<rect x="232.00" y="136.47" width="8.00" height="17.61" fill="#1896FA" fill-opacity="1"/>
<rect x="240.80" y="136.47" width="4.20" height="17.61" fill="#1896FA" fill-opacity="1"/>
<rect x="245.00" y="136.47" width="1.00" height="17.61" fill="#1896FA" fill-opacity="0.66"/>
<rect x="246.00" y="136.47" width="5.00" height="17.61" fill="#1896FA" fill-opacity="1"/>
<rect x="252.20" y="136.47" width="1.80" height="17.61" fill="#1896FA" fill-opacity="1"/>
<rect x="254.00" y="136.47" width="1.50" height="17.61" fill="#1896FA" fill-opacity="0.6"/>
<rect x="255.50" y="136.47" width="3.50" height="17.61" fill="#1896FA" fill-opacity="1"/>
<rect x="259.00" y="136.47" width="1.00" height="17.61" fill="#1896FA" fill-opacity="0.66"/>
<rect x="126.50" y="154.08" width="1.30" height="17.61" fill="#FF6A2A" fill-opacity="0.48"/>
<rect x="129.00" y="154.08" width="1.50" height="17.61" fill="#FF6A2A" fill-opacity="0.6"/>
<rect x="134.00" y="154.08" width="1.00" height="17.61" fill="#FF6A2A" fill-opacity="0.36"/>
<rect x="135.00" y="154.08" width="2.50" height="17.61" fill="#FF6A2A" fill-opacity="0.44"/>
<rect x="145.00" y="154.08" width="3.00" height="17.61" fill="#FF6A2A" fill-opacity="0.39"/>
<rect x="148.00" y="154.08" width="2.50" height="17.61" fill="#FF6A2A" fill-opacity="0.5"/>
<rect x="150.50" y="154.08" width="2.30" height="17.61" fill="#FF6A2A" fill-opacity="0.33"/>
<rect x="153.00" y="154.08" width="0.80" height="17.61" fill="#FF6A2A" fill-opacity="0.72"/>
<rect x="154.00" y="154.08" width="1.50" height="17.61" fill="#FF6A2A" fill-opacity="0.6"/>
<rect x="155.50" y="154.08" width="0.70" height="17.61" fill="#FF6A2A" fill-opacity="0.42"/>
<rect x="158.80" y="154.08" width="1.20" height="17.61" fill="#FF6A2A" fill-opacity="1"/>
<rect x="161.20" y="154.08" width="1.80" height="17.61" fill="#FF6A2A" fill-opacity="1"/>
<rect x="165.80" y="154.08" width="1.20" height="17.61" fill="#FF6A2A" fill-opacity="1"/>
<rect x="170.00" y="154.08" width="3.00" height="17.61" fill="#FF6A2A" fill-opacity="0.39"/>
<rect x="173.00" y="154.08" width="1.20" height="17.61" fill="#FF6A2A" fill-opacity="0.3"/>
<rect x="174.20" y="154.08" width="3.30" height="17.61" fill="#FF6A2A" fill-opacity="1"/>
<rect x="177.50" y="154.08" width="2.00" height="17.61" fill="#FF6A2A" fill-opacity="0.54"/>
<rect x="181.80" y="154.08" width="2.20" height="17.61" fill="#FF6A2A" fill-opacity="1"/>
<rect x="185.00" y="154.08" width="1.20" height="17.61" fill="#FF6A2A" fill-opacity="0.42"/>
<rect x="187.20" y="154.08" width="1.30" height="17.61" fill="#FF6A2A" fill-opacity="0.48"/>
<rect x="189.80" y="154.08" width="1.00" height="17.61" fill="#FF6A2A" fill-opacity="0.6"/>
<rect x="191.60" y="154.08" width="1.40" height="17.61" fill="#FF6A2A" fill-opacity="0.72"/>
<rect x="193.00" y="154.08" width="3.00" height="17.61" fill="#FF6A2A" fill-opacity="1"/>
<rect x="196.00" y="154.08" width="3.00" height="17.61" fill="#FF6A2A" fill-opacity="0.44"/>
<rect x="199.00" y="154.08" width="3.00" height="17.61" fill="#FF6A2A" fill-opacity="0.28"/>
<rect x="203.20" y="154.08" width="1.30" height="17.61" fill="#FF6A2A" fill-opacity="0.36"/>
<rect x="205.50" y="154.08" width="1.30" height="17.61" fill="#FF6A2A" fill-opacity="0.36"/>
<rect x="208.20" y="154.08" width="2.30" height="17.61" fill="#FF6A2A" fill-opacity="0.61"/>
<rect x="210.50" y="154.08" width="4.50" height="17.61" fill="#FF6A2A" fill-opacity="1"/>
<rect x="216.20" y="154.08" width="1.80" height="17.61" fill="#FF6A2A" fill-opacity="0.72"/>
<rect x="218.00" y="154.08" width="3.00" height="17.61" fill="#FF6A2A" fill-opacity="1"/>
<rect x="223.20" y="154.08" width="1.30" height="17.61" fill="#FF6A2A" fill-opacity="0.54"/>
<rect x="224.50" y="154.08" width="1.50" height="17.61" fill="#FF6A2A" fill-opacity="1"/>
<rect x="226.00" y="154.08" width="1.00" height="17.61" fill="#FF6A2A" fill-opacity="0.72"/>
<rect x="227.00" y="154.08" width="1.50" height="17.61" fill="#FF6A2A" fill-opacity="0.48"/>
<rect x="228.50" y="154.08" width="1.50" height="17.61" fill="#FF6A2A" fill-opacity="1"/>
<rect x="230.00" y="154.08" width="2.00" height="17.61" fill="#FF6A2A" fill-opacity="0.72"/>
<rect x="232.00" y="154.08" width="6.00" height="17.61" fill="#FF6A2A" fill-opacity="1"/>
<rect x="238.00" y="154.08" width="1.00" height="17.61" fill="#FF6A2A" fill-opacity="0.72"/>
<rect x="239.00" y="154.08" width="1.00" height="17.61" fill="#FF6A2A" fill-opacity="1"/>
<rect x="240.00" y="154.08" width="0.80" height="17.61" fill="#FF6A2A" fill-opacity="0.48"/>
<rect x="240.80" y="154.08" width="4.20" height="17.61" fill="#FF6A2A" fill-opacity="1"/>
<rect x="245.00" y="154.08" width="1.00" height="17.61" fill="#FF6A2A" fill-opacity="0.72"/>
<rect x="246.00" y="154.08" width="5.00" height="17.61" fill="#FF6A2A" fill-opacity="1"/>
<rect x="251.00" y="154.08" width="1.50" height="17.61" fill="#FF6A2A" fill-opacity="0.66"/>
<rect x="252.50" y="154.08" width="0.70" height="17.61" fill="#FF6A2A" fill-opacity="1"/>
<rect x="255.00" y="154.08" width="4.00" height="17.61" fill="#FF6A2A" fill-opacity="1"/>
<rect x="259.00" y="154.08" width="1.00" height="17.61" fill="#FF6A2A" fill-opacity="0.72"/>
<rect x="126.50" y="171.69" width="1.30" height="17.61" fill="#62D414" fill-opacity="0.42"/>
<rect x="129.00" y="171.69" width="1.50" height="17.61" fill="#62D414" fill-opacity="0.48"/>
<rect x="134.00" y="171.69" width="1.50" height="17.61" fill="#62D414" fill-opacity="0.48"/>
<rect x="145.00" y="171.69" width="3.50" height="17.61" fill="#62D414" fill-opacity="0.44"/>
<rect x="152.00" y="171.69" width="1.00" height="17.61" fill="#62D414" fill-opacity="0.6"/>
<rect x="154.50" y="171.69" width="1.70" height="17.61" fill="#62D414" fill-opacity="0.42"/>
<rect x="158.80" y="171.69" width="1.20" height="17.61" fill="#62D414" fill-opacity="1"/>
<rect x="161.80" y="171.69" width="1.20" height="17.61" fill="#62D414" fill-opacity="1"/>
<rect x="165.80" y="171.69" width="1.20" height="17.61" fill="#62D414" fill-opacity="1"/>
<rect x="170.00" y="171.69" width="3.00" height="17.61" fill="#62D414" fill-opacity="0.33"/>
<rect x="173.00" y="171.69" width="1.50" height="17.61" fill="#62D414" fill-opacity="0.24"/>
<rect x="174.50" y="171.69" width="2.00" height="17.61" fill="#62D414" fill-opacity="1"/>
<rect x="176.50" y="171.69" width="2.50" height="17.61" fill="#62D414" fill-opacity="0.33"/>
<rect x="182.00" y="171.69" width="2.00" height="17.61" fill="#62D414" fill-opacity="1"/>
<rect x="185.00" y="171.69" width="1.20" height="17.61" fill="#62D414" fill-opacity="0.36"/>
<rect x="187.20" y="171.69" width="1.30" height="17.61" fill="#62D414" fill-opacity="0.42"/>
<rect x="189.80" y="171.69" width="1.00" height="17.61" fill="#62D414" fill-opacity="0.6"/>
<rect x="191.60" y="171.69" width="1.20" height="17.61" fill="#62D414" fill-opacity="0.48"/>
<rect x="192.80" y="171.69" width="1.20" height="17.61" fill="#62D414" fill-opacity="0.36"/>
<rect x="194.00" y="171.69" width="2.00" height="17.61" fill="#62D414" fill-opacity="1"/>
<rect x="196.00" y="171.69" width="1.50" height="17.61" fill="#62D414" fill-opacity="0.36"/>
<rect x="197.50" y="171.69" width="1.50" height="17.61" fill="#62D414" fill-opacity="0.6"/>
<rect x="199.00" y="171.69" width="3.00" height="17.61" fill="#62D414" fill-opacity="0.22"/>
<rect x="203.20" y="171.69" width="1.30" height="17.61" fill="#62D414" fill-opacity="0.36"/>
<rect x="205.50" y="171.69" width="1.30" height="17.61" fill="#62D414" fill-opacity="0.36"/>
<rect x="208.20" y="171.69" width="2.80" height="17.61" fill="#62D414" fill-opacity="0.44"/>
<rect x="211.00" y="171.69" width="4.00" height="17.61" fill="#62D414" fill-opacity="1"/>
<rect x="216.20" y="171.69" width="1.80" height="17.61" fill="#62D414" fill-opacity="0.54"/>
<rect x="218.00" y="171.69" width="3.00" height="17.61" fill="#62D414" fill-opacity="1"/>
<rect x="223.20" y="171.69" width="1.30" height="17.61" fill="#62D414" fill-opacity="0.42"/>
<rect x="224.50" y="171.69" width="1.50" height="17.61" fill="#62D414" fill-opacity="1"/>
<rect x="226.00" y="171.69" width="3.00" height="17.61" fill="#62D414" fill-opacity="0.17"/>
<rect x="229.00" y="171.69" width="1.50" height="17.61" fill="#62D414" fill-opacity="1"/>
<rect x="230.50" y="171.69" width="1.50" height="17.61" fill="#62D414" fill-opacity="0.54"/>
<rect x="232.00" y="171.69" width="4.00" height="17.61" fill="#62D414" fill-opacity="1"/>
<rect x="237.80" y="171.69" width="1.20" height="17.61" fill="#62D414" fill-opacity="0.72"/>
<rect x="239.00" y="171.69" width="1.00" height="17.61" fill="#62D414" fill-opacity="0.48"/>
<rect x="241.00" y="171.69" width="1.50" height="17.61" fill="#62D414" fill-opacity="0.72"/>
<rect x="242.50" y="171.69" width="1.00" height="17.61" fill="#62D414" fill-opacity="0.36"/>
<rect x="243.50" y="171.69" width="5.50" height="17.61" fill="#62D414" fill-opacity="1"/>
<rect x="252.00" y="171.69" width="1.20" height="17.61" fill="#62D414" fill-opacity="1"/>
<rect x="255.00" y="171.69" width="4.00" height="17.61" fill="#62D414" fill-opacity="1"/>
<rect x="259.00" y="171.69" width="1.00" height="17.61" fill="#62D414" fill-opacity="0.6"/>
<line x1="48.55" y1="13.2" x2="48.55" y2="189.3" stroke="#fff" stroke-opacity="0.09" stroke-width="0.5"/>
<line x1="54.79" y1="13.2" x2="54.79" y2="189.3" stroke="#fff" stroke-opacity="0.09" stroke-width="0.5"/>
<line x1="61.04" y1="13.2" x2="61.04" y2="189.3" stroke="#fff" stroke-opacity="0.09" stroke-width="0.5"/>
<line x1="67.29" y1="13.2" x2="67.29" y2="189.3" stroke="#fff" stroke-opacity="0.09" stroke-width="0.5"/>
<line x1="73.53" y1="13.2" x2="73.53" y2="189.3" stroke="#fff" stroke-opacity="0.14" stroke-width="0.5"/>
<line x1="79.78" y1="13.2" x2="79.78" y2="189.3" stroke="#fff" stroke-opacity="0.09" stroke-width="0.5"/>
<line x1="86.03" y1="13.2" x2="86.03" y2="189.3" stroke="#fff" stroke-opacity="0.09" stroke-width="0.5"/>
<line x1="92.27" y1="13.2" x2="92.27" y2="189.3" stroke="#fff" stroke-opacity="0.09" stroke-width="0.5"/>
<line x1="98.52" y1="13.2" x2="98.52" y2="189.3" stroke="#fff" stroke-opacity="0.09" stroke-width="0.5"/>
<line x1="104.77" y1="13.2" x2="104.77" y2="189.3" stroke="#fff" stroke-opacity="0.14" stroke-width="0.5"/>
<line x1="111.01" y1="13.2" x2="111.01" y2="189.3" stroke="#fff" stroke-opacity="0.09" stroke-width="0.5"/>
<line x1="117.26" y1="13.2" x2="117.26" y2="189.3" stroke="#fff" stroke-opacity="0.09" stroke-width="0.5"/>
<line x1="123.51" y1="13.2" x2="123.51" y2="189.3" stroke="#fff" stroke-opacity="0.09" stroke-width="0.5"/>
<line x1="129.75" y1="13.2" x2="129.75" y2="189.3" stroke="#fff" stroke-opacity="0.09" stroke-width="0.5"/>
<line x1="136.00" y1="13.2" x2="136.00" y2="189.3" stroke="#fff" stroke-opacity="0.14" stroke-width="0.5"/>
<line x1="142.25" y1="13.2" x2="142.25" y2="189.3" stroke="#fff" stroke-opacity="0.09" stroke-width="0.5"/>
<line x1="148.50" y1="13.2" x2="148.50" y2="189.3" stroke="#fff" stroke-opacity="0.09" stroke-width="0.5"/>
<line x1="154.74" y1="13.2" x2="154.74" y2="189.3" stroke="#fff" stroke-opacity="0.09" stroke-width="0.5"/>
<line x1="160.99" y1="13.2" x2="160.99" y2="189.3" stroke="#fff" stroke-opacity="0.09" stroke-width="0.5"/>
<line x1="167.24" y1="13.2" x2="167.24" y2="189.3" stroke="#fff" stroke-opacity="0.14" stroke-width="0.5"/>
<line x1="173.48" y1="13.2" x2="173.48" y2="189.3" stroke="#fff" stroke-opacity="0.09" stroke-width="0.5"/>
<line x1="179.73" y1="13.2" x2="179.73" y2="189.3" stroke="#fff" stroke-opacity="0.09" stroke-width="0.5"/>
<line x1="185.98" y1="13.2" x2="185.98" y2="189.3" stroke="#fff" stroke-opacity="0.09" stroke-width="0.5"/>
<line x1="192.22" y1="13.2" x2="192.22" y2="189.3" stroke="#fff" stroke-opacity="0.09" stroke-width="0.5"/>
<line x1="198.47" y1="13.2" x2="198.47" y2="189.3" stroke="#fff" stroke-opacity="0.14" stroke-width="0.5"/>
<line x1="204.72" y1="13.2" x2="204.72" y2="189.3" stroke="#fff" stroke-opacity="0.09" stroke-width="0.5"/>
<line x1="210.96" y1="13.2" x2="210.96" y2="189.3" stroke="#fff" stroke-opacity="0.09" stroke-width="0.5"/>
<line x1="217.21" y1="13.2" x2="217.21" y2="189.3" stroke="#fff" stroke-opacity="0.09" stroke-width="0.5"/>
<line x1="223.46" y1="13.2" x2="223.46" y2="189.3" stroke="#fff" stroke-opacity="0.09" stroke-width="0.5"/>
<line x1="229.70" y1="13.2" x2="229.70" y2="189.3" stroke="#fff" stroke-opacity="0.14" stroke-width="0.5"/>
<line x1="235.95" y1="13.2" x2="235.95" y2="189.3" stroke="#fff" stroke-opacity="0.09" stroke-width="0.5"/>
<line x1="242.20" y1="13.2" x2="242.20" y2="189.3" stroke="#fff" stroke-opacity="0.09" stroke-width="0.5"/>
<line x1="248.44" y1="13.2" x2="248.44" y2="189.3" stroke="#fff" stroke-opacity="0.09" stroke-width="0.5"/>
<line x1="254.69" y1="13.2" x2="254.69" y2="189.3" stroke="#fff" stroke-opacity="0.09" stroke-width="0.5"/>
<line x1="42.3" y1="15.72" x2="260.0" y2="15.72" stroke="#fff" stroke-opacity="0.08" stroke-width="0.5"/>
<line x1="42.3" y1="18.23" x2="260.0" y2="18.23" stroke="#fff" stroke-opacity="0.08" stroke-width="0.5"/>
<line x1="42.3" y1="20.75" x2="260.0" y2="20.75" stroke="#fff" stroke-opacity="0.08" stroke-width="0.5"/>
<line x1="42.3" y1="23.26" x2="260.0" y2="23.26" stroke="#fff" stroke-opacity="0.08" stroke-width="0.5"/>
<line x1="42.3" y1="25.78" x2="260.0" y2="25.78" stroke="#fff" stroke-opacity="0.08" stroke-width="0.5"/>
<line x1="42.3" y1="28.29" x2="260.0" y2="28.29" stroke="#fff" stroke-opacity="0.08" stroke-width="0.5"/>
<line x1="42.3" y1="33.33" x2="260.0" y2="33.33" stroke="#fff" stroke-opacity="0.08" stroke-width="0.5"/>
<line x1="42.3" y1="35.84" x2="260.0" y2="35.84" stroke="#fff" stroke-opacity="0.08" stroke-width="0.5"/>
<line x1="42.3" y1="38.36" x2="260.0" y2="38.36" stroke="#fff" stroke-opacity="0.08" stroke-width="0.5"/>
<line x1="42.3" y1="40.87" x2="260.0" y2="40.87" stroke="#fff" stroke-opacity="0.08" stroke-width="0.5"/>
<line x1="42.3" y1="43.39" x2="260.0" y2="43.39" stroke="#fff" stroke-opacity="0.08" stroke-width="0.5"/>
<line x1="42.3" y1="45.90" x2="260.0" y2="45.90" stroke="#fff" stroke-opacity="0.08" stroke-width="0.5"/>
<line x1="42.3" y1="50.94" x2="260.0" y2="50.94" stroke="#fff" stroke-opacity="0.08" stroke-width="0.5"/>
<line x1="42.3" y1="53.45" x2="260.0" y2="53.45" stroke="#fff" stroke-opacity="0.08" stroke-width="0.5"/>
<line x1="42.3" y1="55.97" x2="260.0" y2="55.97" stroke="#fff" stroke-opacity="0.08" stroke-width="0.5"/>
<line x1="42.3" y1="58.48" x2="260.0" y2="58.48" stroke="#fff" stroke-opacity="0.08" stroke-width="0.5"/>
<line x1="42.3" y1="61.00" x2="260.0" y2="61.00" stroke="#fff" stroke-opacity="0.08" stroke-width="0.5"/>
<line x1="42.3" y1="63.51" x2="260.0" y2="63.51" stroke="#fff" stroke-opacity="0.08" stroke-width="0.5"/>
<line x1="42.3" y1="68.55" x2="260.0" y2="68.55" stroke="#fff" stroke-opacity="0.08" stroke-width="0.5"/>
<line x1="42.3" y1="71.06" x2="260.0" y2="71.06" stroke="#fff" stroke-opacity="0.08" stroke-width="0.5"/>
<line x1="42.3" y1="73.58" x2="260.0" y2="73.58" stroke="#fff" stroke-opacity="0.08" stroke-width="0.5"/>
<line x1="42.3" y1="76.09" x2="260.0" y2="76.09" stroke="#fff" stroke-opacity="0.08" stroke-width="0.5"/>
<line x1="42.3" y1="78.61" x2="260.0" y2="78.61" stroke="#fff" stroke-opacity="0.08" stroke-width="0.5"/>
<line x1="42.3" y1="81.12" x2="260.0" y2="81.12" stroke="#fff" stroke-opacity="0.08" stroke-width="0.5"/>
<line x1="42.3" y1="86.16" x2="260.0" y2="86.16" stroke="#fff" stroke-opacity="0.08" stroke-width="0.5"/>
<line x1="42.3" y1="88.67" x2="260.0" y2="88.67" stroke="#fff" stroke-opacity="0.08" stroke-width="0.5"/>
<line x1="42.3" y1="91.19" x2="260.0" y2="91.19" stroke="#fff" stroke-opacity="0.08" stroke-width="0.5"/>
<line x1="42.3" y1="93.70" x2="260.0" y2="93.70" stroke="#fff" stroke-opacity="0.08" stroke-width="0.5"/>
<line x1="42.3" y1="96.22" x2="260.0" y2="96.22" stroke="#fff" stroke-opacity="0.08" stroke-width="0.5"/>
<line x1="42.3" y1="98.73" x2="260.0" y2="98.73" stroke="#fff" stroke-opacity="0.08" stroke-width="0.5"/>
<line x1="42.3" y1="103.77" x2="260.0" y2="103.77" stroke="#fff" stroke-opacity="0.08" stroke-width="0.5"/>
<line x1="42.3" y1="106.28" x2="260.0" y2="106.28" stroke="#fff" stroke-opacity="0.08" stroke-width="0.5"/>
<line x1="42.3" y1="108.80" x2="260.0" y2="108.80" stroke="#fff" stroke-opacity="0.08" stroke-width="0.5"/>
<line x1="42.3" y1="111.31" x2="260.0" y2="111.31" stroke="#fff" stroke-opacity="0.08" stroke-width="0.5"/>
<line x1="42.3" y1="113.83" x2="260.0" y2="113.83" stroke="#fff" stroke-opacity="0.08" stroke-width="0.5"/>
<line x1="42.3" y1="116.34" x2="260.0" y2="116.34" stroke="#fff" stroke-opacity="0.08" stroke-width="0.5"/>
<line x1="42.3" y1="121.38" x2="260.0" y2="121.38" stroke="#fff" stroke-opacity="0.08" stroke-width="0.5"/>
<line x1="42.3" y1="123.89" x2="260.0" y2="123.89" stroke="#fff" stroke-opacity="0.08" stroke-width="0.5"/>
<line x1="42.3" y1="126.41" x2="260.0" y2="126.41" stroke="#fff" stroke-opacity="0.08" stroke-width="0.5"/>
<line x1="42.3" y1="128.92" x2="260.0" y2="128.92" stroke="#fff" stroke-opacity="0.08" stroke-width="0.5"/>
<line x1="42.3" y1="131.44" x2="260.0" y2="131.44" stroke="#fff" stroke-opacity="0.08" stroke-width="0.5"/>
<line x1="42.3" y1="133.95" x2="260.0" y2="133.95" stroke="#fff" stroke-opacity="0.08" stroke-width="0.5"/>
<line x1="42.3" y1="138.99" x2="260.0" y2="138.99" stroke="#fff" stroke-opacity="0.08" stroke-width="0.5"/>
<line x1="42.3" y1="141.50" x2="260.0" y2="141.50" stroke="#fff" stroke-opacity="0.08" stroke-width="0.5"/>
<line x1="42.3" y1="144.02" x2="260.0" y2="144.02" stroke="#fff" stroke-opacity="0.08" stroke-width="0.5"/>
<line x1="42.3" y1="146.53" x2="260.0" y2="146.53" stroke="#fff" stroke-opacity="0.08" stroke-width="0.5"/>
<line x1="42.3" y1="149.05" x2="260.0" y2="149.05" stroke="#fff" stroke-opacity="0.08" stroke-width="0.5"/>
<line x1="42.3" y1="151.56" x2="260.0" y2="151.56" stroke="#fff" stroke-opacity="0.08" stroke-width="0.5"/>
<line x1="42.3" y1="156.60" x2="260.0" y2="156.60" stroke="#fff" stroke-opacity="0.08" stroke-width="0.5"/>
<line x1="42.3" y1="159.11" x2="260.0" y2="159.11" stroke="#fff" stroke-opacity="0.08" stroke-width="0.5"/>
<line x1="42.3" y1="161.63" x2="260.0" y2="161.63" stroke="#fff" stroke-opacity="0.08" stroke-width="0.5"/>
<line x1="42.3" y1="164.14" x2="260.0" y2="164.14" stroke="#fff" stroke-opacity="0.08" stroke-width="0.5"/>
<line x1="42.3" y1="166.66" x2="260.0" y2="166.66" stroke="#fff" stroke-opacity="0.08" stroke-width="0.5"/>
<line x1="42.3" y1="169.17" x2="260.0" y2="169.17" stroke="#fff" stroke-opacity="0.08" stroke-width="0.5"/>
<line x1="42.3" y1="174.21" x2="260.0" y2="174.21" stroke="#fff" stroke-opacity="0.08" stroke-width="0.5"/>
<line x1="42.3" y1="176.72" x2="260.0" y2="176.72" stroke="#fff" stroke-opacity="0.08" stroke-width="0.5"/>
<line x1="42.3" y1="179.24" x2="260.0" y2="179.24" stroke="#fff" stroke-opacity="0.08" stroke-width="0.5"/>
<line x1="42.3" y1="181.75" x2="260.0" y2="181.75" stroke="#fff" stroke-opacity="0.08" stroke-width="0.5"/>
<line x1="42.3" y1="184.27" x2="260.0" y2="184.27" stroke="#fff" stroke-opacity="0.08" stroke-width="0.5"/>
<line x1="42.3" y1="186.78" x2="260.0" y2="186.78" stroke="#fff" stroke-opacity="0.08" stroke-width="0.5"/>
<text transform="translate(42.30 197.40) rotate(0.3) scale(0.1 0.103)" font-size="66" text-anchor="middle" fill="#111">0</text>
<text transform="translate(73.53 197.40) rotate(0.3) scale(0.1 0.103)" font-size="66" text-anchor="middle" fill="#111">0.5</text>
<text transform="translate(104.77 197.40) rotate(0.3) scale(0.1 0.103)" font-size="66" text-anchor="middle" fill="#111">1</text>
<text transform="translate(136.00 197.40) rotate(0.3) scale(0.1 0.103)" font-size="66" text-anchor="middle" fill="#111">1.5</text>
<text transform="translate(167.24 197.40) rotate(0.3) scale(0.1 0.103)" font-size="66" text-anchor="middle" fill="#111">2</text>
<text transform="translate(198.47 197.40) rotate(0.3) scale(0.1 0.103)" font-size="66" text-anchor="middle" fill="#111">2.5</text>
<text transform="translate(229.70 197.40) rotate(0.3) scale(0.1 0.103)" font-size="66" text-anchor="middle" fill="#111">3</text>
<line x1="42.3" y1="22.01" x2="44.099999999999994" y2="22.01" stroke="#777" stroke-width="0.5"/>
<text transform="translate(39.80 25.51) rotate(0.3) scale(0.1 0.103)" font-size="66" text-anchor="end" fill="#111">50· 10<tspan dy="-30" font-size="50">-3</tspan></text>
<line x1="42.3" y1="39.62" x2="44.099999999999994" y2="39.62" stroke="#777" stroke-width="0.5"/>
<text transform="translate(39.80 43.12) rotate(0.3) scale(0.1 0.103)" font-size="66" text-anchor="end" fill="#111">25· 10<tspan dy="-30" font-size="50">-3</tspan></text>
<line x1="42.3" y1="57.23" x2="44.099999999999994" y2="57.23" stroke="#777" stroke-width="0.5"/>
<text transform="translate(39.80 60.73) rotate(0.3) scale(0.1 0.103)" font-size="66" text-anchor="end" fill="#111">10· 10<tspan dy="-30" font-size="50">-3</tspan></text>
<line x1="42.3" y1="74.84" x2="44.099999999999994" y2="74.84" stroke="#777" stroke-width="0.5"/>
<text transform="translate(39.80 78.34) rotate(0.3) scale(0.1 0.103)" font-size="66" text-anchor="end" fill="#111">7.5· 10<tspan dy="-30" font-size="50">-3</tspan></text>
<line x1="42.3" y1="92.45" x2="44.099999999999994" y2="92.45" stroke="#777" stroke-width="0.5"/>
<text transform="translate(39.80 95.95) rotate(0.3) scale(0.1 0.103)" font-size="66" text-anchor="end" fill="#111">5· 10<tspan dy="-30" font-size="50">-3</tspan></text>
<line x1="42.3" y1="110.06" x2="44.099999999999994" y2="110.06" stroke="#777" stroke-width="0.5"/>
<text transform="translate(39.80 113.56) rotate(0.3) scale(0.1 0.103)" font-size="66" text-anchor="end" fill="#111">2.5· 10<tspan dy="-30" font-size="50">-3</tspan></text>
<line x1="42.3" y1="127.67" x2="44.099999999999994" y2="127.67" stroke="#777" stroke-width="0.5"/>
<text transform="translate(39.80 131.17) rotate(0.3) scale(0.1 0.103)" font-size="66" text-anchor="end" fill="#111">2· 10<tspan dy="-30" font-size="50">-3</tspan></text>
<line x1="42.3" y1="145.28" x2="44.099999999999994" y2="145.28" stroke="#777" stroke-width="0.5"/>
<text transform="translate(39.80 148.78) rotate(0.3) scale(0.1 0.103)" font-size="66" text-anchor="end" fill="#111">1.5· 10<tspan dy="-30" font-size="50">-3</tspan></text>
<line x1="42.3" y1="162.89" x2="44.099999999999994" y2="162.89" stroke="#777" stroke-width="0.5"/>
<text transform="translate(39.80 166.39) rotate(0.3) scale(0.1 0.103)" font-size="66" text-anchor="end" fill="#111">1· 10<tspan dy="-30" font-size="50">-3</tspan></text>
<line x1="42.3" y1="180.50" x2="44.099999999999994" y2="180.50" stroke="#777" stroke-width="0.5"/>
<text transform="translate(39.80 184.00) rotate(0.3) scale(0.1 0.103)" font-size="66" text-anchor="end" fill="#111">0.5· 10<tspan dy="-30" font-size="50">-3</tspan></text>
<text transform="translate(150.75 10.90) rotate(0.3) scale(0.1 0.1002)" font-size="74" text-anchor="middle" font-weight="bold" fill="#111" stroke="#111" stroke-width="1.6">Stability Test</text>
<text transform="translate(150.65 205.60) rotate(0.3) scale(0.1 0.1002)" font-size="70" text-anchor="middle" fill="#2a2a2a" textLength="550" lengthAdjust="spacingAndGlyphs">Frequency - (rad/s)</text>
<text transform="translate(260.20 207.50) rotate(0.3) scale(0.1 0.1002)" font-size="73" text-anchor="end" fill="#1a1a1a">×10<tspan dy="-33" font-size="52">-3</tspan></text>
<text transform="translate(11.70 101.45) rotate(-90.3) scale(0.1 0.1002)" font-size="69" text-anchor="middle" fill="#1a1a1a" word-spacing="9" letter-spacing="1">ω<tspan dy="28" font-size="46">c</tspan><tspan dy="-28"> - (rad/s)</tspan></text>
<text transform="translate(84.20 231.60) rotate(0.3) scale(0.1 0.1002)" font-size="113" text-anchor="start" fill="#1c1c1c" lengthAdjust="spacingAndGlyphs" textLength="150">(<tspan font-weight="bold">a</tspan>)</text>
<text transform="translate(102.80 231.60) rotate(0.3) scale(0.1 0.1002)" font-size="113" text-anchor="start" fill="#1c1c1c" lengthAdjust="spacingAndGlyphs" textLength="515">PCA-SW</text>
<text transform="translate(157.00 231.60) rotate(0.3) scale(0.1 0.1002)" font-size="113" text-anchor="start" fill="#1c1c1c" lengthAdjust="spacingAndGlyphs" textLength="460">Stability.</text>
</g>
<g>
<line x1="323.50" y1="13.0" x2="323.50" y2="189.4" stroke="#ebebeb" stroke-width="0.5"/>
<line x1="329.74" y1="13.0" x2="329.74" y2="189.4" stroke="#f4f4f4" stroke-width="0.5"/>
<line x1="335.98" y1="13.0" x2="335.98" y2="189.4" stroke="#f4f4f4" stroke-width="0.5"/>
<line x1="342.22" y1="13.0" x2="342.22" y2="189.4" stroke="#f4f4f4" stroke-width="0.5"/>
<line x1="348.46" y1="13.0" x2="348.46" y2="189.4" stroke="#f4f4f4" stroke-width="0.5"/>
<line x1="354.71" y1="13.0" x2="354.71" y2="189.4" stroke="#ebebeb" stroke-width="0.5"/>
<line x1="360.95" y1="13.0" x2="360.95" y2="189.4" stroke="#f4f4f4" stroke-width="0.5"/>
<line x1="367.19" y1="13.0" x2="367.19" y2="189.4" stroke="#f4f4f4" stroke-width="0.5"/>
<line x1="373.43" y1="13.0" x2="373.43" y2="189.4" stroke="#f4f4f4" stroke-width="0.5"/>
<line x1="379.67" y1="13.0" x2="379.67" y2="189.4" stroke="#f4f4f4" stroke-width="0.5"/>
<line x1="385.91" y1="13.0" x2="385.91" y2="189.4" stroke="#ebebeb" stroke-width="0.5"/>
<line x1="392.15" y1="13.0" x2="392.15" y2="189.4" stroke="#f4f4f4" stroke-width="0.5"/>
<line x1="398.39" y1="13.0" x2="398.39" y2="189.4" stroke="#f4f4f4" stroke-width="0.5"/>
<line x1="404.63" y1="13.0" x2="404.63" y2="189.4" stroke="#f4f4f4" stroke-width="0.5"/>
<line x1="410.87" y1="13.0" x2="410.87" y2="189.4" stroke="#f4f4f4" stroke-width="0.5"/>
<line x1="417.12" y1="13.0" x2="417.12" y2="189.4" stroke="#ebebeb" stroke-width="0.5"/>
<line x1="423.36" y1="13.0" x2="423.36" y2="189.4" stroke="#f4f4f4" stroke-width="0.5"/>
<line x1="429.60" y1="13.0" x2="429.60" y2="189.4" stroke="#f4f4f4" stroke-width="0.5"/>
<line x1="435.84" y1="13.0" x2="435.84" y2="189.4" stroke="#f4f4f4" stroke-width="0.5"/>
<line x1="442.08" y1="13.0" x2="442.08" y2="189.4" stroke="#f4f4f4" stroke-width="0.5"/>
<line x1="448.32" y1="13.0" x2="448.32" y2="189.4" stroke="#ebebeb" stroke-width="0.5"/>
<line x1="454.56" y1="13.0" x2="454.56" y2="189.4" stroke="#f4f4f4" stroke-width="0.5"/>
<line x1="460.80" y1="13.0" x2="460.80" y2="189.4" stroke="#f4f4f4" stroke-width="0.5"/>
<line x1="467.04" y1="13.0" x2="467.04" y2="189.4" stroke="#f4f4f4" stroke-width="0.5"/>
<line x1="473.28" y1="13.0" x2="473.28" y2="189.4" stroke="#f4f4f4" stroke-width="0.5"/>
<line x1="479.53" y1="13.0" x2="479.53" y2="189.4" stroke="#ebebeb" stroke-width="0.5"/>
<line x1="485.77" y1="13.0" x2="485.77" y2="189.4" stroke="#f4f4f4" stroke-width="0.5"/>
<line x1="492.01" y1="13.0" x2="492.01" y2="189.4" stroke="#f4f4f4" stroke-width="0.5"/>
<line x1="498.25" y1="13.0" x2="498.25" y2="189.4" stroke="#f4f4f4" stroke-width="0.5"/>
<line x1="504.49" y1="13.0" x2="504.49" y2="189.4" stroke="#f4f4f4" stroke-width="0.5"/>
<line x1="510.73" y1="13.0" x2="510.73" y2="189.4" stroke="#ebebeb" stroke-width="0.5"/>
<line x1="516.97" y1="13.0" x2="516.97" y2="189.4" stroke="#f4f4f4" stroke-width="0.5"/>
<line x1="523.21" y1="13.0" x2="523.21" y2="189.4" stroke="#f4f4f4" stroke-width="0.5"/>
<line x1="529.45" y1="13.0" x2="529.45" y2="189.4" stroke="#f4f4f4" stroke-width="0.5"/>
<line x1="535.70" y1="13.0" x2="535.70" y2="189.4" stroke="#f4f4f4" stroke-width="0.5"/>
<line x1="323.5" y1="15.52" x2="541.0" y2="15.52" stroke="#f5f5f5" stroke-width="0.5"/>
<line x1="323.5" y1="18.04" x2="541.0" y2="18.04" stroke="#f5f5f5" stroke-width="0.5"/>
<line x1="323.5" y1="20.56" x2="541.0" y2="20.56" stroke="#f5f5f5" stroke-width="0.5"/>
<line x1="323.5" y1="23.08" x2="541.0" y2="23.08" stroke="#f5f5f5" stroke-width="0.5"/>
<line x1="323.5" y1="25.60" x2="541.0" y2="25.60" stroke="#f5f5f5" stroke-width="0.5"/>
<line x1="323.5" y1="28.12" x2="541.0" y2="28.12" stroke="#f5f5f5" stroke-width="0.5"/>
<line x1="323.5" y1="33.16" x2="541.0" y2="33.16" stroke="#f5f5f5" stroke-width="0.5"/>
<line x1="323.5" y1="35.68" x2="541.0" y2="35.68" stroke="#f5f5f5" stroke-width="0.5"/>
<line x1="323.5" y1="38.20" x2="541.0" y2="38.20" stroke="#f5f5f5" stroke-width="0.5"/>
<line x1="323.5" y1="40.72" x2="541.0" y2="40.72" stroke="#f5f5f5" stroke-width="0.5"/>
<line x1="323.5" y1="43.24" x2="541.0" y2="43.24" stroke="#f5f5f5" stroke-width="0.5"/>
<line x1="323.5" y1="45.76" x2="541.0" y2="45.76" stroke="#f5f5f5" stroke-width="0.5"/>
<line x1="323.5" y1="50.80" x2="541.0" y2="50.80" stroke="#f5f5f5" stroke-width="0.5"/>
<line x1="323.5" y1="53.32" x2="541.0" y2="53.32" stroke="#f5f5f5" stroke-width="0.5"/>
<line x1="323.5" y1="55.84" x2="541.0" y2="55.84" stroke="#f5f5f5" stroke-width="0.5"/>
<line x1="323.5" y1="58.36" x2="541.0" y2="58.36" stroke="#f5f5f5" stroke-width="0.5"/>
<line x1="323.5" y1="60.88" x2="541.0" y2="60.88" stroke="#f5f5f5" stroke-width="0.5"/>
<line x1="323.5" y1="63.40" x2="541.0" y2="63.40" stroke="#f5f5f5" stroke-width="0.5"/>
<line x1="323.5" y1="68.44" x2="541.0" y2="68.44" stroke="#f5f5f5" stroke-width="0.5"/>
<line x1="323.5" y1="70.96" x2="541.0" y2="70.96" stroke="#f5f5f5" stroke-width="0.5"/>
<line x1="323.5" y1="73.48" x2="541.0" y2="73.48" stroke="#f5f5f5" stroke-width="0.5"/>
<line x1="323.5" y1="76.00" x2="541.0" y2="76.00" stroke="#f5f5f5" stroke-width="0.5"/>
<line x1="323.5" y1="78.52" x2="541.0" y2="78.52" stroke="#f5f5f5" stroke-width="0.5"/>
<line x1="323.5" y1="81.04" x2="541.0" y2="81.04" stroke="#f5f5f5" stroke-width="0.5"/>
<line x1="323.5" y1="86.08" x2="541.0" y2="86.08" stroke="#f5f5f5" stroke-width="0.5"/>
<line x1="323.5" y1="88.60" x2="541.0" y2="88.60" stroke="#f5f5f5" stroke-width="0.5"/>
<line x1="323.5" y1="91.12" x2="541.0" y2="91.12" stroke="#f5f5f5" stroke-width="0.5"/>
<line x1="323.5" y1="93.64" x2="541.0" y2="93.64" stroke="#f5f5f5" stroke-width="0.5"/>
<line x1="323.5" y1="96.16" x2="541.0" y2="96.16" stroke="#f5f5f5" stroke-width="0.5"/>
<line x1="323.5" y1="98.68" x2="541.0" y2="98.68" stroke="#f5f5f5" stroke-width="0.5"/>
<line x1="323.5" y1="103.72" x2="541.0" y2="103.72" stroke="#f5f5f5" stroke-width="0.5"/>
<line x1="323.5" y1="106.24" x2="541.0" y2="106.24" stroke="#f5f5f5" stroke-width="0.5"/>
<line x1="323.5" y1="108.76" x2="541.0" y2="108.76" stroke="#f5f5f5" stroke-width="0.5"/>
<line x1="323.5" y1="111.28" x2="541.0" y2="111.28" stroke="#f5f5f5" stroke-width="0.5"/>
<line x1="323.5" y1="113.80" x2="541.0" y2="113.80" stroke="#f5f5f5" stroke-width="0.5"/>
<line x1="323.5" y1="116.32" x2="541.0" y2="116.32" stroke="#f5f5f5" stroke-width="0.5"/>
<line x1="323.5" y1="121.36" x2="541.0" y2="121.36" stroke="#f5f5f5" stroke-width="0.5"/>
<line x1="323.5" y1="123.88" x2="541.0" y2="123.88" stroke="#f5f5f5" stroke-width="0.5"/>
<line x1="323.5" y1="126.40" x2="541.0" y2="126.40" stroke="#f5f5f5" stroke-width="0.5"/>
<line x1="323.5" y1="128.92" x2="541.0" y2="128.92" stroke="#f5f5f5" stroke-width="0.5"/>
<line x1="323.5" y1="131.44" x2="541.0" y2="131.44" stroke="#f5f5f5" stroke-width="0.5"/>
<line x1="323.5" y1="133.96" x2="541.0" y2="133.96" stroke="#f5f5f5" stroke-width="0.5"/>
<line x1="323.5" y1="139.00" x2="541.0" y2="139.00" stroke="#f5f5f5" stroke-width="0.5"/>
<line x1="323.5" y1="141.52" x2="541.0" y2="141.52" stroke="#f5f5f5" stroke-width="0.5"/>
<line x1="323.5" y1="144.04" x2="541.0" y2="144.04" stroke="#f5f5f5" stroke-width="0.5"/>
<line x1="323.5" y1="146.56" x2="541.0" y2="146.56" stroke="#f5f5f5" stroke-width="0.5"/>
<line x1="323.5" y1="149.08" x2="541.0" y2="149.08" stroke="#f5f5f5" stroke-width="0.5"/>
<line x1="323.5" y1="151.60" x2="541.0" y2="151.60" stroke="#f5f5f5" stroke-width="0.5"/>
<line x1="323.5" y1="156.64" x2="541.0" y2="156.64" stroke="#f5f5f5" stroke-width="0.5"/>
<line x1="323.5" y1="159.16" x2="541.0" y2="159.16" stroke="#f5f5f5" stroke-width="0.5"/>
<line x1="323.5" y1="161.68" x2="541.0" y2="161.68" stroke="#f5f5f5" stroke-width="0.5"/>
<line x1="323.5" y1="164.20" x2="541.0" y2="164.20" stroke="#f5f5f5" stroke-width="0.5"/>
<line x1="323.5" y1="166.72" x2="541.0" y2="166.72" stroke="#f5f5f5" stroke-width="0.5"/>
<line x1="323.5" y1="169.24" x2="541.0" y2="169.24" stroke="#f5f5f5" stroke-width="0.5"/>
<line x1="323.5" y1="174.28" x2="541.0" y2="174.28" stroke="#f5f5f5" stroke-width="0.5"/>
<line x1="323.5" y1="176.80" x2="541.0" y2="176.80" stroke="#f5f5f5" stroke-width="0.5"/>
<line x1="323.5" y1="179.32" x2="541.0" y2="179.32" stroke="#f5f5f5" stroke-width="0.5"/>
<line x1="323.5" y1="181.84" x2="541.0" y2="181.84" stroke="#f5f5f5" stroke-width="0.5"/>
<line x1="323.5" y1="184.36" x2="541.0" y2="184.36" stroke="#f5f5f5" stroke-width="0.5"/>
<line x1="323.5" y1="186.88" x2="541.0" y2="186.88" stroke="#f5f5f5" stroke-width="0.5"/>
<line x1="323.5" y1="30.64" x2="541.0" y2="30.64" stroke="#c0c0c0" stroke-width="1"/>
<line x1="323.5" y1="48.28" x2="541.0" y2="48.28" stroke="#c0c0c0" stroke-width="1"/>
<line x1="323.5" y1="65.92" x2="541.0" y2="65.92" stroke="#c0c0c0" stroke-width="1"/>
<line x1="323.5" y1="83.56" x2="541.0" y2="83.56" stroke="#c0c0c0" stroke-width="1"/>
<line x1="323.5" y1="101.20" x2="541.0" y2="101.20" stroke="#c0c0c0" stroke-width="1"/>
<line x1="323.5" y1="118.84" x2="541.0" y2="118.84" stroke="#c0c0c0" stroke-width="1"/>
<line x1="323.5" y1="136.48" x2="541.0" y2="136.48" stroke="#c0c0c0" stroke-width="1"/>
<line x1="323.5" y1="154.12" x2="541.0" y2="154.12" stroke="#c0c0c0" stroke-width="1"/>
<line x1="323.5" y1="171.76" x2="541.0" y2="171.76" stroke="#c0c0c0" stroke-width="1"/>
<line x1="323.50" y1="189.4" x2="323.50" y2="187.6" stroke="#777" stroke-width="0.5"/>
<line x1="323.50" y1="13.0" x2="323.50" y2="14.8" stroke="#777" stroke-width="0.5"/>
<line x1="354.71" y1="189.4" x2="354.71" y2="187.6" stroke="#777" stroke-width="0.5"/>
<line x1="354.71" y1="13.0" x2="354.71" y2="14.8" stroke="#777" stroke-width="0.5"/>
<line x1="385.91" y1="189.4" x2="385.91" y2="187.6" stroke="#777" stroke-width="0.5"/>
<line x1="385.91" y1="13.0" x2="385.91" y2="14.8" stroke="#777" stroke-width="0.5"/>
<line x1="417.12" y1="189.4" x2="417.12" y2="187.6" stroke="#777" stroke-width="0.5"/>
<line x1="417.12" y1="13.0" x2="417.12" y2="14.8" stroke="#777" stroke-width="0.5"/>
<line x1="448.32" y1="189.4" x2="448.32" y2="187.6" stroke="#777" stroke-width="0.5"/>
<line x1="448.32" y1="13.0" x2="448.32" y2="14.8" stroke="#777" stroke-width="0.5"/>
<line x1="479.53" y1="189.4" x2="479.53" y2="187.6" stroke="#777" stroke-width="0.5"/>
<line x1="479.53" y1="13.0" x2="479.53" y2="14.8" stroke="#777" stroke-width="0.5"/>
<line x1="510.73" y1="189.4" x2="510.73" y2="187.6" stroke="#777" stroke-width="0.5"/>
<line x1="510.73" y1="13.0" x2="510.73" y2="14.8" stroke="#777" stroke-width="0.5"/>
<path d="M323.5 13.0H541.0M323.5 13.0V189.4H541.0" fill="none" stroke="#bcbcbc" stroke-width="1"/>
<rect x="356.00" y="13.00" width="1.80" height="17.64" fill="#0A72BE" fill-opacity="0.72"/>
<rect x="359.20" y="13.00" width="1.60" height="17.64" fill="#0A72BE" fill-opacity="0.54"/>
<rect x="365.80" y="13.00" width="1.20" height="17.64" fill="#0A72BE" fill-opacity="1"/>
<rect x="386.20" y="13.00" width="1.80" height="17.64" fill="#0A72BE" fill-opacity="0.72"/>
<rect x="391.80" y="13.00" width="1.20" height="17.64" fill="#0A72BE" fill-opacity="0.66"/>
<rect x="401.20" y="13.00" width="1.80" height="17.64" fill="#0A72BE" fill-opacity="0.78"/>
<rect x="407.00" y="13.00" width="1.00" height="17.64" fill="#0A72BE" fill-opacity="0.9"/>
<rect x="412.00" y="13.00" width="2.00" height="17.64" fill="#0A72BE" fill-opacity="0.72"/>
<rect x="414.00" y="13.00" width="1.00" height="17.64" fill="#0A72BE" fill-opacity="0.48"/>
<rect x="415.00" y="13.00" width="1.00" height="17.64" fill="#0A72BE" fill-opacity="0.84"/>
<rect x="416.00" y="13.00" width="1.00" height="17.64" fill="#0A72BE" fill-opacity="0.42"/>
<rect x="419.00" y="13.00" width="2.20" height="17.64" fill="#0A72BE" fill-opacity="0.66"/>
<rect x="421.20" y="13.00" width="0.60" height="17.64" fill="#0A72BE" fill-opacity="0.36"/>
<rect x="421.80" y="13.00" width="1.20" height="17.64" fill="#0A72BE" fill-opacity="1"/>
<rect x="423.00" y="13.00" width="1.80" height="17.64" fill="#0A72BE" fill-opacity="0.42"/>
<rect x="424.80" y="13.00" width="1.40" height="17.64" fill="#0A72BE" fill-opacity="1"/>
<rect x="426.20" y="13.00" width="2.80" height="17.64" fill="#0A72BE" fill-opacity="0.44"/>
<rect x="429.00" y="13.00" width="112.00" height="17.64" fill="#0A72BE" fill-opacity="1"/>
<rect x="436.00" y="13.00" width="2.00" height="17.64" fill="#fff" fill-opacity="0.25"/>
<rect x="448.00" y="13.00" width="1.20" height="17.64" fill="#fff" fill-opacity="0.3"/>
<rect x="356.00" y="30.64" width="1.80" height="17.64" fill="#DC541A" fill-opacity="0.6"/>
<rect x="359.20" y="30.64" width="1.60" height="17.64" fill="#DC541A" fill-opacity="0.42"/>
<rect x="365.80" y="30.64" width="1.20" height="17.64" fill="#DC541A" fill-opacity="0.84"/>
<rect x="391.80" y="30.64" width="1.20" height="17.64" fill="#DC541A" fill-opacity="0.54"/>
<rect x="401.20" y="30.64" width="1.80" height="17.64" fill="#DC541A" fill-opacity="0.54"/>
<rect x="407.00" y="30.64" width="1.00" height="17.64" fill="#DC541A" fill-opacity="0.84"/>
<rect x="412.00" y="30.64" width="2.00" height="17.64" fill="#DC541A" fill-opacity="0.72"/>
<rect x="414.00" y="30.64" width="0.80" height="17.64" fill="#DC541A" fill-opacity="0.54"/>
<rect x="414.80" y="30.64" width="2.20" height="17.64" fill="#DC541A" fill-opacity="0.66"/>
<rect x="420.00" y="30.64" width="1.50" height="17.64" fill="#DC541A" fill-opacity="0.72"/>
<rect x="421.50" y="30.64" width="0.70" height="17.64" fill="#DC541A" fill-opacity="0.36"/>
<rect x="422.20" y="30.64" width="1.00" height="17.64" fill="#DC541A" fill-opacity="1"/>
<rect x="423.20" y="30.64" width="1.60" height="17.64" fill="#DC541A" fill-opacity="0.6"/>
<rect x="424.80" y="30.64" width="1.40" height="17.64" fill="#DC541A" fill-opacity="1"/>
<rect x="426.20" y="30.64" width="2.80" height="17.64" fill="#DC541A" fill-opacity="0.5"/>
<rect x="429.00" y="30.64" width="112.00" height="17.64" fill="#DC541A" fill-opacity="1"/>
<rect x="436.00" y="30.64" width="2.00" height="17.64" fill="#fff" fill-opacity="0.25"/>
<rect x="448.00" y="30.64" width="1.20" height="17.64" fill="#fff" fill-opacity="0.25"/>
<rect x="401.20" y="48.28" width="1.60" height="17.64" fill="#EEB222" fill-opacity="0.72"/>
<rect x="412.20" y="48.28" width="1.30" height="17.64" fill="#EEB222" fill-opacity="0.6"/>
<rect x="415.80" y="48.28" width="1.20" height="17.64" fill="#EEB222" fill-opacity="0.66"/>
<rect x="420.00" y="48.28" width="2.00" height="17.64" fill="#EEB222" fill-opacity="0.6"/>
<rect x="422.00" y="48.28" width="1.20" height="17.64" fill="#EEB222" fill-opacity="0.84"/>
<rect x="425.00" y="48.28" width="2.00" height="17.64" fill="#EEB222" fill-opacity="0.54"/>
<rect x="429.00" y="48.28" width="112.00" height="17.64" fill="#EEB222" fill-opacity="1"/>
<rect x="436.00" y="48.28" width="2.00" height="17.64" fill="#fff" fill-opacity="0.5"/>
<rect x="443.50" y="48.28" width="1.50" height="17.64" fill="#fff" fill-opacity="0.5"/>
<rect x="447.00" y="48.28" width="2.20" height="17.64" fill="#fff" fill-opacity="0.5"/>
<rect x="451.20" y="48.28" width="1.60" height="17.64" fill="#fff" fill-opacity="0.5"/>
<rect x="458.00" y="48.28" width="1.50" height="17.64" fill="#fff" fill-opacity="0.3"/>
<rect x="462.00" y="48.28" width="1.50" height="17.64" fill="#fff" fill-opacity="0.3"/>
<rect x="467.50" y="48.28" width="1.30" height="17.64" fill="#fff" fill-opacity="0.5"/>
<rect x="476.00" y="48.28" width="1.00" height="17.64" fill="#fff" fill-opacity="0.7"/>
<rect x="485.00" y="48.28" width="1.00" height="17.64" fill="#fff" fill-opacity="0.7"/>
<rect x="521.20" y="48.28" width="1.60" height="17.64" fill="#fff" fill-opacity="0.7"/>
<rect x="401.20" y="65.92" width="1.60" height="17.64" fill="#7D2E9C" fill-opacity="0.66"/>
<rect x="412.20" y="65.92" width="1.30" height="17.64" fill="#7D2E9C" fill-opacity="0.6"/>
<rect x="415.80" y="65.92" width="1.20" height="17.64" fill="#7D2E9C" fill-opacity="0.66"/>
<rect x="420.00" y="65.92" width="2.00" height="17.64" fill="#7D2E9C" fill-opacity="0.72"/>
<rect x="422.00" y="65.92" width="1.20" height="17.64" fill="#7D2E9C" fill-opacity="1"/>
<rect x="425.00" y="65.92" width="2.00" height="17.64" fill="#7D2E9C" fill-opacity="0.6"/>
<rect x="429.00" y="65.92" width="112.00" height="17.64" fill="#7D2E9C" fill-opacity="1"/>
<rect x="436.00" y="65.92" width="2.00" height="17.64" fill="#fff" fill-opacity="0.35"/>
<rect x="443.50" y="65.92" width="1.50" height="17.64" fill="#fff" fill-opacity="0.3"/>
<rect x="447.00" y="65.92" width="2.20" height="17.64" fill="#fff" fill-opacity="0.4"/>
<rect x="451.20" y="65.92" width="1.60" height="17.64" fill="#fff" fill-opacity="0.45"/>
<rect x="456.00" y="65.92" width="1.50" height="17.64" fill="#fff" fill-opacity="0.3"/>
<rect x="458.00" y="65.92" width="1.50" height="17.64" fill="#fff" fill-opacity="0.2"/>
<rect x="461.00" y="65.92" width="2.50" height="17.64" fill="#fff" fill-opacity="0.45"/>
<rect x="467.50" y="65.92" width="1.30" height="17.64" fill="#fff" fill-opacity="0.3"/>
<rect x="476.00" y="65.92" width="1.00" height="17.64" fill="#fff" fill-opacity="0.5"/>
<rect x="485.00" y="65.92" width="1.20" height="17.64" fill="#fff" fill-opacity="0.7"/>
<rect x="488.00" y="65.92" width="1.00" height="17.64" fill="#fff" fill-opacity="0.25"/>
<rect x="521.20" y="65.92" width="1.60" height="17.64" fill="#fff" fill-opacity="0.6"/>
<rect x="401.20" y="83.56" width="1.60" height="17.64" fill="#76AB2F" fill-opacity="0.66"/>
<rect x="412.20" y="83.56" width="1.30" height="17.64" fill="#76AB2F" fill-opacity="0.6"/>
<rect x="415.80" y="83.56" width="1.20" height="17.64" fill="#76AB2F" fill-opacity="0.6"/>
<rect x="420.00" y="83.56" width="3.20" height="17.64" fill="#76AB2F" fill-opacity="0.5"/>
<rect x="425.00" y="83.56" width="2.00" height="17.64" fill="#76AB2F" fill-opacity="0.48"/>
<rect x="429.00" y="83.56" width="112.00" height="17.64" fill="#76AB2F" fill-opacity="1"/>
<rect x="431.00" y="83.56" width="1.00" height="17.64" fill="#fff" fill-opacity="0.5"/>
<rect x="435.00" y="83.56" width="3.00" height="17.64" fill="#fff" fill-opacity="0.45"/>
<rect x="440.50" y="83.56" width="0.70" height="17.64" fill="#fff" fill-opacity="0.25"/>
<rect x="443.50" y="83.56" width="1.50" height="17.64" fill="#fff" fill-opacity="0.35"/>
<rect x="447.00" y="83.56" width="1.00" height="17.64" fill="#fff" fill-opacity="0.3"/>
<rect x="447.80" y="83.56" width="1.40" height="17.64" fill="#fff" fill-opacity="0.55"/>
<rect x="451.20" y="83.56" width="1.60" height="17.64" fill="#fff" fill-opacity="0.5"/>
<rect x="456.00" y="83.56" width="1.50" height="17.64" fill="#fff" fill-opacity="0.3"/>
<rect x="458.50" y="83.56" width="1.00" height="17.64" fill="#fff" fill-opacity="0.3"/>
<rect x="461.00" y="83.56" width="2.50" height="17.64" fill="#fff" fill-opacity="0.5"/>
<rect x="467.50" y="83.56" width="1.30" height="17.64" fill="#fff" fill-opacity="0.45"/>
<rect x="476.00" y="83.56" width="1.20" height="17.64" fill="#fff" fill-opacity="0.7"/>
<rect x="485.00" y="83.56" width="1.20" height="17.64" fill="#fff" fill-opacity="0.65"/>
<rect x="488.00" y="83.56" width="1.50" height="17.64" fill="#fff" fill-opacity="0.35"/>
<rect x="492.00" y="83.56" width="1.50" height="17.64" fill="#fff" fill-opacity="0.5"/>
<rect x="501.00" y="83.56" width="1.80" height="17.64" fill="#fff" fill-opacity="0.55"/>
<rect x="514.00" y="83.56" width="1.20" height="17.64" fill="#fff" fill-opacity="0.6"/>
<rect x="521.20" y="83.56" width="1.60" height="17.64" fill="#fff" fill-opacity="0.65"/>
<rect x="401.20" y="101.20" width="1.60" height="17.64" fill="#4DBDEE" fill-opacity="0.6"/>
<rect x="412.20" y="101.20" width="1.30" height="17.64" fill="#4DBDEE" fill-opacity="0.6"/>
<rect x="421.80" y="101.20" width="1.20" height="17.64" fill="#4DBDEE" fill-opacity="0.72"/>
<rect x="425.00" y="101.20" width="2.00" height="17.64" fill="#4DBDEE" fill-opacity="0.48"/>
<rect x="429.50" y="101.20" width="1.30" height="17.64" fill="#4DBDEE" fill-opacity="1"/>
<rect x="432.80" y="101.20" width="2.20" height="17.64" fill="#4DBDEE" fill-opacity="1"/>
<rect x="435.00" y="101.20" width="5.00" height="17.64" fill="#4DBDEE" fill-opacity="0.55"/>
<rect x="440.00" y="101.20" width="1.50" height="17.64" fill="#4DBDEE" fill-opacity="1"/>
<rect x="441.50" y="101.20" width="1.30" height="17.64" fill="#4DBDEE" fill-opacity="0.42"/>
<rect x="442.80" y="101.20" width="1.20" height="17.64" fill="#4DBDEE" fill-opacity="0.72"/>
<rect x="444.00" y="101.20" width="2.00" height="17.64" fill="#4DBDEE" fill-opacity="0.48"/>
<rect x="446.00" y="101.20" width="95.00" height="17.64" fill="#4DBDEE" fill-opacity="1"/>
<rect x="445.00" y="101.20" width="1.20" height="17.64" fill="#fff" fill-opacity="0.4"/>
<rect x="447.80" y="101.20" width="1.70" height="17.64" fill="#fff" fill-opacity="0.8"/>
<rect x="451.20" y="101.20" width="1.60" height="17.64" fill="#fff" fill-opacity="0.8"/>
<rect x="453.50" y="101.20" width="1.00" height="17.64" fill="#fff" fill-opacity="0.4"/>
<rect x="456.00" y="101.20" width="1.50" height="17.64" fill="#fff" fill-opacity="0.3"/>
<rect x="458.50" y="101.20" width="1.00" height="17.64" fill="#fff" fill-opacity="0.3"/>
<rect x="461.00" y="101.20" width="1.80" height="17.64" fill="#fff" fill-opacity="0.5"/>
<rect x="462.80" y="101.20" width="1.20" height="17.64" fill="#fff" fill-opacity="0.9"/>
<rect x="464.00" y="101.20" width="3.50" height="17.64" fill="#fff" fill-opacity="0.4"/>
<rect x="467.50" y="101.20" width="1.50" height="17.64" fill="#fff" fill-opacity="0.55"/>
<rect x="469.80" y="101.20" width="1.00" height="17.64" fill="#fff" fill-opacity="0.4"/>
<rect x="471.50" y="101.20" width="1.00" height="17.64" fill="#fff" fill-opacity="0.4"/>
<rect x="476.00" y="101.20" width="1.20" height="17.64" fill="#fff" fill-opacity="0.5"/>
<rect x="482.20" y="101.20" width="1.30" height="17.64" fill="#fff" fill-opacity="0.45"/>
<rect x="485.00" y="101.20" width="1.20" height="17.64" fill="#fff" fill-opacity="0.55"/>
<rect x="488.00" y="101.20" width="1.50" height="17.64" fill="#fff" fill-opacity="0.3"/>
<rect x="492.00" y="101.20" width="1.50" height="17.64" fill="#fff" fill-opacity="0.4"/>
<rect x="495.00" y="101.20" width="1.50" height="17.64" fill="#fff" fill-opacity="0.35"/>
<rect x="501.00" y="101.20" width="1.80" height="17.64" fill="#fff" fill-opacity="0.45"/>
<rect x="514.00" y="101.20" width="1.20" height="17.64" fill="#fff" fill-opacity="0.45"/>
<rect x="521.20" y="101.20" width="1.60" height="17.64" fill="#fff" fill-opacity="0.55"/>
<rect x="401.20" y="118.84" width="1.60" height="17.64" fill="#A4142E" fill-opacity="0.6"/>
<rect x="412.20" y="118.84" width="1.30" height="17.64" fill="#A4142E" fill-opacity="0.6"/>
<rect x="421.80" y="118.84" width="1.20" height="17.64" fill="#A4142E" fill-opacity="0.6"/>
<rect x="425.00" y="118.84" width="2.00" height="17.64" fill="#A4142E" fill-opacity="0.48"/>
<rect x="429.50" y="118.84" width="1.30" height="17.64" fill="#A4142E" fill-opacity="1"/>
<rect x="432.80" y="118.84" width="2.20" height="17.64" fill="#A4142E" fill-opacity="1"/>
<rect x="435.00" y="118.84" width="5.00" height="17.64" fill="#A4142E" fill-opacity="0.44"/>
<rect x="440.00" y="118.84" width="1.50" height="17.64" fill="#A4142E" fill-opacity="1"/>
<rect x="441.50" y="118.84" width="4.50" height="17.64" fill="#A4142E" fill-opacity="0.44"/>
<rect x="446.00" y="118.84" width="95.00" height="17.64" fill="#A4142E" fill-opacity="1"/>
<rect x="445.00" y="118.84" width="1.20" height="17.64" fill="#fff" fill-opacity="0.4"/>
<rect x="447.80" y="118.84" width="1.70" height="17.64" fill="#fff" fill-opacity="0.85"/>
<rect x="451.20" y="118.84" width="1.60" height="17.64" fill="#fff" fill-opacity="0.8"/>
<rect x="454.50" y="118.84" width="2.50" height="17.64" fill="#fff" fill-opacity="0.2"/>
<rect x="458.00" y="118.84" width="1.20" height="17.64" fill="#fff" fill-opacity="0.3"/>
<rect x="461.00" y="118.84" width="1.80" height="17.64" fill="#fff" fill-opacity="0.5"/>
<rect x="462.80" y="118.84" width="1.20" height="17.64" fill="#fff" fill-opacity="0.9"/>
<rect x="464.00" y="118.84" width="2.50" height="17.64" fill="#fff" fill-opacity="0.3"/>
<rect x="466.50" y="118.84" width="0.80" height="17.64" fill="#fff" fill-opacity="0.55"/>
<rect x="467.30" y="118.84" width="2.70" height="17.64" fill="#fff" fill-opacity="0.15"/>
<rect x="470.00" y="118.84" width="0.80" height="17.64" fill="#fff" fill-opacity="0.6"/>
<rect x="471.80" y="118.84" width="1.00" height="17.64" fill="#fff" fill-opacity="0.6"/>
<rect x="475.00" y="118.84" width="2.00" height="17.64" fill="#fff" fill-opacity="0.25"/>
<rect x="482.00" y="118.84" width="1.50" height="17.64" fill="#fff" fill-opacity="0.4"/>
<rect x="485.00" y="118.84" width="1.50" height="17.64" fill="#fff" fill-opacity="0.5"/>
<rect x="486.50" y="118.84" width="3.00" height="17.64" fill="#fff" fill-opacity="0.2"/>
<rect x="492.00" y="118.84" width="1.50" height="17.64" fill="#fff" fill-opacity="0.4"/>
<rect x="495.00" y="118.84" width="1.50" height="17.64" fill="#fff" fill-opacity="0.35"/>
<rect x="501.00" y="118.84" width="1.80" height="17.64" fill="#fff" fill-opacity="0.35"/>
<rect x="514.00" y="118.84" width="1.20" height="17.64" fill="#fff" fill-opacity="0.35"/>
<rect x="521.20" y="118.84" width="1.60" height="17.64" fill="#fff" fill-opacity="0.4"/>
<rect x="401.20" y="136.48" width="1.60" height="17.64" fill="#1896FA" fill-opacity="0.6"/>
<rect x="412.20" y="136.48" width="1.30" height="17.64" fill="#1896FA" fill-opacity="0.6"/>
<rect x="421.80" y="136.48" width="1.20" height="17.64" fill="#1896FA" fill-opacity="0.6"/>
<rect x="425.00" y="136.48" width="2.00" height="17.64" fill="#1896FA" fill-opacity="0.48"/>
<rect x="429.50" y="136.48" width="1.30" height="17.64" fill="#1896FA" fill-opacity="1"/>
<rect x="430.80" y="136.48" width="2.00" height="17.64" fill="#1896FA" fill-opacity="0.12"/>
<rect x="432.80" y="136.48" width="2.20" height="17.64" fill="#1896FA" fill-opacity="1"/>
<rect x="435.00" y="136.48" width="5.00" height="17.64" fill="#1896FA" fill-opacity="0.55"/>
<rect x="440.00" y="136.48" width="1.50" height="17.64" fill="#1896FA" fill-opacity="1"/>
<rect x="441.50" y="136.48" width="4.50" height="17.64" fill="#1896FA" fill-opacity="0.61"/>
<rect x="446.00" y="136.48" width="95.00" height="17.64" fill="#1896FA" fill-opacity="1"/>
<rect x="445.00" y="136.48" width="1.20" height="17.64" fill="#fff" fill-opacity="0.4"/>
<rect x="447.80" y="136.48" width="1.70" height="17.64" fill="#fff" fill-opacity="0.85"/>
<rect x="451.20" y="136.48" width="1.60" height="17.64" fill="#fff" fill-opacity="0.8"/>
<rect x="453.50" y="136.48" width="1.00" height="17.64" fill="#fff" fill-opacity="0.3"/>
<rect x="454.50" y="136.48" width="5.50" height="17.64" fill="#fff" fill-opacity="0.4"/>
<rect x="461.00" y="136.48" width="1.80" height="17.64" fill="#fff" fill-opacity="0.8"/>
<rect x="462.80" y="136.48" width="1.20" height="17.64" fill="#fff" fill-opacity="0.95"/>
<rect x="464.00" y="136.48" width="3.50" height="17.64" fill="#fff" fill-opacity="0.5"/>
<rect x="467.50" y="136.48" width="1.50" height="17.64" fill="#fff" fill-opacity="0.6"/>
<rect x="471.50" y="136.48" width="1.30" height="17.64" fill="#fff" fill-opacity="0.9"/>
<rect x="476.00" y="136.48" width="1.20" height="17.64" fill="#fff" fill-opacity="0.4"/>
<rect x="482.20" y="136.48" width="1.30" height="17.64" fill="#fff" fill-opacity="0.35"/>
<rect x="485.00" y="136.48" width="1.50" height="17.64" fill="#fff" fill-opacity="0.5"/>
<rect x="488.00" y="136.48" width="1.50" height="17.64" fill="#fff" fill-opacity="0.3"/>
<rect x="492.00" y="136.48" width="1.50" height="17.64" fill="#fff" fill-opacity="0.4"/>
<rect x="495.00" y="136.48" width="1.50" height="17.64" fill="#fff" fill-opacity="0.4"/>
<rect x="501.00" y="136.48" width="1.80" height="17.64" fill="#fff" fill-opacity="0.4"/>
<rect x="514.00" y="136.48" width="1.20" height="17.64" fill="#fff" fill-opacity="0.5"/>
<rect x="521.20" y="136.48" width="1.60" height="17.64" fill="#fff" fill-opacity="0.5"/>
<rect x="528.00" y="136.48" width="1.00" height="17.64" fill="#fff" fill-opacity="0.8"/>
<rect x="401.20" y="154.12" width="1.60" height="17.64" fill="#FF6A2A" fill-opacity="0.6"/>
<rect x="412.20" y="154.12" width="1.30" height="17.64" fill="#FF6A2A" fill-opacity="0.54"/>
<rect x="421.80" y="154.12" width="1.20" height="17.64" fill="#FF6A2A" fill-opacity="0.6"/>
<rect x="429.50" y="154.12" width="1.30" height="17.64" fill="#FF6A2A" fill-opacity="1"/>
<rect x="432.80" y="154.12" width="2.20" height="17.64" fill="#FF6A2A" fill-opacity="1"/>
<rect x="436.00" y="154.12" width="4.00" height="17.64" fill="#FF6A2A" fill-opacity="0.44"/>
<rect x="440.00" y="154.12" width="1.50" height="17.64" fill="#FF6A2A" fill-opacity="1"/>
<rect x="444.00" y="154.12" width="2.00" height="17.64" fill="#FF6A2A" fill-opacity="0.42"/>
<rect x="446.00" y="154.12" width="1.80" height="17.64" fill="#FF6A2A" fill-opacity="1"/>
<rect x="449.50" y="154.12" width="1.50" height="17.64" fill="#FF6A2A" fill-opacity="1"/>
<rect x="452.80" y="154.12" width="1.70" height="17.64" fill="#FF6A2A" fill-opacity="1"/>
<rect x="454.50" y="154.12" width="5.50" height="17.64" fill="#FF6A2A" fill-opacity="0.5"/>
<rect x="460.00" y="154.12" width="1.00" height="17.64" fill="#FF6A2A" fill-opacity="1"/>
<rect x="461.00" y="154.12" width="1.80" height="17.64" fill="#FF6A2A" fill-opacity="0.42"/>
<rect x="464.00" y="154.12" width="6.00" height="17.64" fill="#FF6A2A" fill-opacity="0.44"/>
<rect x="470.00" y="154.12" width="0.80" height="17.64" fill="#FF6A2A" fill-opacity="0.36"/>
<rect x="470.80" y="154.12" width="1.00" height="17.64" fill="#FF6A2A" fill-opacity="1"/>
<rect x="473.00" y="154.12" width="2.00" height="17.64" fill="#FF6A2A" fill-opacity="1"/>
<rect x="475.00" y="154.12" width="4.50" height="17.64" fill="#FF6A2A" fill-opacity="0.61"/>
<rect x="479.50" y="154.12" width="4.00" height="17.64" fill="#FF6A2A" fill-opacity="0.83"/>
<rect x="486.50" y="154.12" width="1.50" height="17.64" fill="#FF6A2A" fill-opacity="0.36"/>
<rect x="488.00" y="154.12" width="1.50" height="17.64" fill="#FF6A2A" fill-opacity="0.24"/>
<rect x="489.50" y="154.12" width="1.50" height="17.64" fill="#FF6A2A" fill-opacity="0.48"/>
<rect x="491.00" y="154.12" width="1.50" height="17.64" fill="#FF6A2A" fill-opacity="0.66"/>
<rect x="492.50" y="154.12" width="1.00" height="17.64" fill="#FF6A2A" fill-opacity="0.18"/>
<rect x="493.50" y="154.12" width="1.50" height="17.64" fill="#FF6A2A" fill-opacity="1"/>
<rect x="495.00" y="154.12" width="1.50" height="17.64" fill="#FF6A2A" fill-opacity="0.6"/>
<rect x="496.50" y="154.12" width="44.50" height="17.64" fill="#FF6A2A" fill-opacity="1"/>
<rect x="501.00" y="154.12" width="1.20" height="17.64" fill="#fff" fill-opacity="0.9"/>
<rect x="513.50" y="154.12" width="2.00" height="17.64" fill="#fff" fill-opacity="0.4"/>
<rect x="521.20" y="154.12" width="1.00" height="17.64" fill="#fff" fill-opacity="0.9"/>
<rect x="528.00" y="154.12" width="1.20" height="17.64" fill="#fff" fill-opacity="0.8"/>
<rect x="531.80" y="154.12" width="1.20" height="17.64" fill="#fff" fill-opacity="0.45"/>
<rect x="401.20" y="171.76" width="1.60" height="17.64" fill="#62D414" fill-opacity="0.6"/>
<rect x="421.80" y="171.76" width="1.20" height="17.64" fill="#62D414" fill-opacity="0.54"/>
<rect x="429.50" y="171.76" width="1.30" height="17.64" fill="#62D414" fill-opacity="1"/>
<rect x="433.00" y="171.76" width="1.20" height="17.64" fill="#62D414" fill-opacity="0.6"/>
<rect x="436.00" y="171.76" width="4.00" height="17.64" fill="#62D414" fill-opacity="0.5"/>
<rect x="440.00" y="171.76" width="1.50" height="17.64" fill="#62D414" fill-opacity="1"/>
<rect x="446.00" y="171.76" width="1.80" height="17.64" fill="#62D414" fill-opacity="1"/>
<rect x="447.80" y="171.76" width="1.70" height="17.64" fill="#62D414" fill-opacity="0.36"/>
<rect x="449.50" y="171.76" width="1.50" height="17.64" fill="#62D414" fill-opacity="1"/>
<rect x="451.80" y="171.76" width="8.20" height="17.64" fill="#62D414" fill-opacity="0.66"/>
<rect x="460.00" y="171.76" width="1.00" height="17.64" fill="#62D414" fill-opacity="1"/>
<rect x="464.00" y="171.76" width="1.00" height="17.64" fill="#62D414" fill-opacity="0.6"/>
<rect x="465.00" y="171.76" width="1.20" height="17.64" fill="#62D414" fill-opacity="0.36"/>
<rect x="466.20" y="171.76" width="1.30" height="17.64" fill="#62D414" fill-opacity="0.6"/>
<rect x="469.00" y="171.76" width="2.50" height="17.64" fill="#62D414" fill-opacity="0.66"/>
<rect x="473.00" y="171.76" width="2.00" height="17.64" fill="#62D414" fill-opacity="1"/>
<rect x="475.00" y="171.76" width="2.00" height="17.64" fill="#62D414" fill-opacity="0.18"/>
<rect x="477.00" y="171.76" width="2.50" height="17.64" fill="#62D414" fill-opacity="0.44"/>
<rect x="479.50" y="171.76" width="1.50" height="17.64" fill="#62D414" fill-opacity="0.6"/>
<rect x="481.00" y="171.76" width="1.20" height="17.64" fill="#62D414" fill-opacity="0.36"/>
<rect x="482.20" y="171.76" width="1.30" height="17.64" fill="#62D414" fill-opacity="0.72"/>
<rect x="485.00" y="171.76" width="1.50" height="17.64" fill="#62D414" fill-opacity="0.36"/>
<rect x="486.50" y="171.76" width="2.50" height="17.64" fill="#62D414" fill-opacity="0.39"/>
<rect x="490.00" y="171.76" width="1.20" height="17.64" fill="#62D414" fill-opacity="0.6"/>
<rect x="493.50" y="171.76" width="1.30" height="17.64" fill="#62D414" fill-opacity="1"/>
<rect x="494.80" y="171.76" width="1.70" height="17.64" fill="#62D414" fill-opacity="0.36"/>
<rect x="496.50" y="171.76" width="44.50" height="17.64" fill="#62D414" fill-opacity="1"/>
<rect x="496.50" y="171.76" width="1.50" height="17.64" fill="#fff" fill-opacity="0.45"/>
<rect x="498.00" y="171.76" width="1.50" height="17.64" fill="#fff" fill-opacity="0.35"/>
<rect x="499.50" y="171.76" width="1.30" height="17.64" fill="#fff" fill-opacity="0.5"/>
<rect x="500.80" y="171.76" width="1.40" height="17.64" fill="#fff" fill-opacity="0.95"/>
<rect x="504.00" y="171.76" width="1.20" height="17.64" fill="#fff" fill-opacity="0.6"/>
<rect x="509.00" y="171.76" width="1.20" height="17.64" fill="#fff" fill-opacity="0.4"/>
<rect x="512.50" y="171.76" width="3.00" height="17.64" fill="#fff" fill-opacity="0.45"/>
<rect x="517.20" y="171.76" width="1.30" height="17.64" fill="#fff" fill-opacity="0.6"/>
<rect x="521.20" y="171.76" width="1.00" height="17.64" fill="#fff" fill-opacity="0.9"/>
<rect x="526.50" y="171.76" width="1.50" height="17.64" fill="#fff" fill-opacity="0.3"/>
<rect x="529.00" y="171.76" width="1.50" height="17.64" fill="#fff" fill-opacity="0.3"/>
<rect x="531.00" y="171.76" width="3.00" height="17.64" fill="#fff" fill-opacity="0.95"/>
<rect x="539.00" y="171.76" width="1.00" height="17.64" fill="#fff" fill-opacity="0.3"/>
<line x1="329.74" y1="13.0" x2="329.74" y2="189.4" stroke="#fff" stroke-opacity="0.09" stroke-width="0.5"/>
<line x1="335.98" y1="13.0" x2="335.98" y2="189.4" stroke="#fff" stroke-opacity="0.09" stroke-width="0.5"/>
<line x1="342.22" y1="13.0" x2="342.22" y2="189.4" stroke="#fff" stroke-opacity="0.09" stroke-width="0.5"/>
<line x1="348.46" y1="13.0" x2="348.46" y2="189.4" stroke="#fff" stroke-opacity="0.09" stroke-width="0.5"/>
<line x1="354.71" y1="13.0" x2="354.71" y2="189.4" stroke="#fff" stroke-opacity="0.14" stroke-width="0.5"/>
<line x1="360.95" y1="13.0" x2="360.95" y2="189.4" stroke="#fff" stroke-opacity="0.09" stroke-width="0.5"/>
<line x1="367.19" y1="13.0" x2="367.19" y2="189.4" stroke="#fff" stroke-opacity="0.09" stroke-width="0.5"/>
<line x1="373.43" y1="13.0" x2="373.43" y2="189.4" stroke="#fff" stroke-opacity="0.09" stroke-width="0.5"/>
<line x1="379.67" y1="13.0" x2="379.67" y2="189.4" stroke="#fff" stroke-opacity="0.09" stroke-width="0.5"/>
<line x1="385.91" y1="13.0" x2="385.91" y2="189.4" stroke="#fff" stroke-opacity="0.14" stroke-width="0.5"/>
<line x1="392.15" y1="13.0" x2="392.15" y2="189.4" stroke="#fff" stroke-opacity="0.09" stroke-width="0.5"/>
<line x1="398.39" y1="13.0" x2="398.39" y2="189.4" stroke="#fff" stroke-opacity="0.09" stroke-width="0.5"/>
<line x1="404.63" y1="13.0" x2="404.63" y2="189.4" stroke="#fff" stroke-opacity="0.09" stroke-width="0.5"/>
<line x1="410.87" y1="13.0" x2="410.87" y2="189.4" stroke="#fff" stroke-opacity="0.09" stroke-width="0.5"/>
<line x1="417.12" y1="13.0" x2="417.12" y2="189.4" stroke="#fff" stroke-opacity="0.14" stroke-width="0.5"/>
<line x1="423.36" y1="13.0" x2="423.36" y2="189.4" stroke="#fff" stroke-opacity="0.09" stroke-width="0.5"/>
<line x1="429.60" y1="13.0" x2="429.60" y2="189.4" stroke="#fff" stroke-opacity="0.09" stroke-width="0.5"/>
<line x1="435.84" y1="13.0" x2="435.84" y2="189.4" stroke="#fff" stroke-opacity="0.09" stroke-width="0.5"/>
<line x1="442.08" y1="13.0" x2="442.08" y2="189.4" stroke="#fff" stroke-opacity="0.09" stroke-width="0.5"/>
<line x1="448.32" y1="13.0" x2="448.32" y2="189.4" stroke="#fff" stroke-opacity="0.14" stroke-width="0.5"/>
<line x1="454.56" y1="13.0" x2="454.56" y2="189.4" stroke="#fff" stroke-opacity="0.09" stroke-width="0.5"/>
<line x1="460.80" y1="13.0" x2="460.80" y2="189.4" stroke="#fff" stroke-opacity="0.09" stroke-width="0.5"/>
<line x1="467.04" y1="13.0" x2="467.04" y2="189.4" stroke="#fff" stroke-opacity="0.09" stroke-width="0.5"/>
<line x1="473.28" y1="13.0" x2="473.28" y2="189.4" stroke="#fff" stroke-opacity="0.09" stroke-width="0.5"/>
<line x1="479.53" y1="13.0" x2="479.53" y2="189.4" stroke="#fff" stroke-opacity="0.14" stroke-width="0.5"/>
<line x1="485.77" y1="13.0" x2="485.77" y2="189.4" stroke="#fff" stroke-opacity="0.09" stroke-width="0.5"/>
<line x1="492.01" y1="13.0" x2="492.01" y2="189.4" stroke="#fff" stroke-opacity="0.09" stroke-width="0.5"/>
<line x1="498.25" y1="13.0" x2="498.25" y2="189.4" stroke="#fff" stroke-opacity="0.09" stroke-width="0.5"/>
<line x1="504.49" y1="13.0" x2="504.49" y2="189.4" stroke="#fff" stroke-opacity="0.09" stroke-width="0.5"/>
<line x1="510.73" y1="13.0" x2="510.73" y2="189.4" stroke="#fff" stroke-opacity="0.14" stroke-width="0.5"/>
<line x1="516.97" y1="13.0" x2="516.97" y2="189.4" stroke="#fff" stroke-opacity="0.09" stroke-width="0.5"/>
<line x1="523.21" y1="13.0" x2="523.21" y2="189.4" stroke="#fff" stroke-opacity="0.09" stroke-width="0.5"/>
<line x1="529.45" y1="13.0" x2="529.45" y2="189.4" stroke="#fff" stroke-opacity="0.09" stroke-width="0.5"/>
<line x1="535.70" y1="13.0" x2="535.70" y2="189.4" stroke="#fff" stroke-opacity="0.09" stroke-width="0.5"/>
<line x1="323.5" y1="15.52" x2="541.0" y2="15.52" stroke="#fff" stroke-opacity="0.08" stroke-width="0.5"/>
<line x1="323.5" y1="18.04" x2="541.0" y2="18.04" stroke="#fff" stroke-opacity="0.08" stroke-width="0.5"/>
<line x1="323.5" y1="20.56" x2="541.0" y2="20.56" stroke="#fff" stroke-opacity="0.08" stroke-width="0.5"/>
<line x1="323.5" y1="23.08" x2="541.0" y2="23.08" stroke="#fff" stroke-opacity="0.08" stroke-width="0.5"/>
<line x1="323.5" y1="25.60" x2="541.0" y2="25.60" stroke="#fff" stroke-opacity="0.08" stroke-width="0.5"/>
<line x1="323.5" y1="28.12" x2="541.0" y2="28.12" stroke="#fff" stroke-opacity="0.08" stroke-width="0.5"/>
<line x1="323.5" y1="33.16" x2="541.0" y2="33.16" stroke="#fff" stroke-opacity="0.08" stroke-width="0.5"/>
<line x1="323.5" y1="35.68" x2="541.0" y2="35.68" stroke="#fff" stroke-opacity="0.08" stroke-width="0.5"/>
<line x1="323.5" y1="38.20" x2="541.0" y2="38.20" stroke="#fff" stroke-opacity="0.08" stroke-width="0.5"/>
<line x1="323.5" y1="40.72" x2="541.0" y2="40.72" stroke="#fff" stroke-opacity="0.08" stroke-width="0.5"/>
<line x1="323.5" y1="43.24" x2="541.0" y2="43.24" stroke="#fff" stroke-opacity="0.08" stroke-width="0.5"/>
<line x1="323.5" y1="45.76" x2="541.0" y2="45.76" stroke="#fff" stroke-opacity="0.08" stroke-width="0.5"/>
<line x1="323.5" y1="50.80" x2="541.0" y2="50.80" stroke="#fff" stroke-opacity="0.08" stroke-width="0.5"/>
<line x1="323.5" y1="53.32" x2="541.0" y2="53.32" stroke="#fff" stroke-opacity="0.08" stroke-width="0.5"/>
<line x1="323.5" y1="55.84" x2="541.0" y2="55.84" stroke="#fff" stroke-opacity="0.08" stroke-width="0.5"/>
<line x1="323.5" y1="58.36" x2="541.0" y2="58.36" stroke="#fff" stroke-opacity="0.08" stroke-width="0.5"/>
<line x1="323.5" y1="60.88" x2="541.0" y2="60.88" stroke="#fff" stroke-opacity="0.08" stroke-width="0.5"/>
<line x1="323.5" y1="63.40" x2="541.0" y2="63.40" stroke="#fff" stroke-opacity="0.08" stroke-width="0.5"/>
<line x1="323.5" y1="68.44" x2="541.0" y2="68.44" stroke="#fff" stroke-opacity="0.08" stroke-width="0.5"/>
<line x1="323.5" y1="70.96" x2="541.0" y2="70.96" stroke="#fff" stroke-opacity="0.08" stroke-width="0.5"/>
<line x1="323.5" y1="73.48" x2="541.0" y2="73.48" stroke="#fff" stroke-opacity="0.08" stroke-width="0.5"/>
<line x1="323.5" y1="76.00" x2="541.0" y2="76.00" stroke="#fff" stroke-opacity="0.08" stroke-width="0.5"/>
<line x1="323.5" y1="78.52" x2="541.0" y2="78.52" stroke="#fff" stroke-opacity="0.08" stroke-width="0.5"/>
<line x1="323.5" y1="81.04" x2="541.0" y2="81.04" stroke="#fff" stroke-opacity="0.08" stroke-width="0.5"/>
<line x1="323.5" y1="86.08" x2="541.0" y2="86.08" stroke="#fff" stroke-opacity="0.08" stroke-width="0.5"/>
<line x1="323.5" y1="88.60" x2="541.0" y2="88.60" stroke="#fff" stroke-opacity="0.08" stroke-width="0.5"/>
<line x1="323.5" y1="91.12" x2="541.0" y2="91.12" stroke="#fff" stroke-opacity="0.08" stroke-width="0.5"/>
<line x1="323.5" y1="93.64" x2="541.0" y2="93.64" stroke="#fff" stroke-opacity="0.08" stroke-width="0.5"/>
<line x1="323.5" y1="96.16" x2="541.0" y2="96.16" stroke="#fff" stroke-opacity="0.08" stroke-width="0.5"/>
<line x1="323.5" y1="98.68" x2="541.0" y2="98.68" stroke="#fff" stroke-opacity="0.08" stroke-width="0.5"/>
<line x1="323.5" y1="103.72" x2="541.0" y2="103.72" stroke="#fff" stroke-opacity="0.08" stroke-width="0.5"/>
<line x1="323.5" y1="106.24" x2="541.0" y2="106.24" stroke="#fff" stroke-opacity="0.08" stroke-width="0.5"/>
<line x1="323.5" y1="108.76" x2="541.0" y2="108.76" stroke="#fff" stroke-opacity="0.08" stroke-width="0.5"/>
<line x1="323.5" y1="111.28" x2="541.0" y2="111.28" stroke="#fff" stroke-opacity="0.08" stroke-width="0.5"/>
<line x1="323.5" y1="113.80" x2="541.0" y2="113.80" stroke="#fff" stroke-opacity="0.08" stroke-width="0.5"/>
<line x1="323.5" y1="116.32" x2="541.0" y2="116.32" stroke="#fff" stroke-opacity="0.08" stroke-width="0.5"/>
<line x1="323.5" y1="121.36" x2="541.0" y2="121.36" stroke="#fff" stroke-opacity="0.08" stroke-width="0.5"/>
<line x1="323.5" y1="123.88" x2="541.0" y2="123.88" stroke="#fff" stroke-opacity="0.08" stroke-width="0.5"/>
<line x1="323.5" y1="126.40" x2="541.0" y2="126.40" stroke="#fff" stroke-opacity="0.08" stroke-width="0.5"/>
<line x1="323.5" y1="128.92" x2="541.0" y2="128.92" stroke="#fff" stroke-opacity="0.08" stroke-width="0.5"/>
<line x1="323.5" y1="131.44" x2="541.0" y2="131.44" stroke="#fff" stroke-opacity="0.08" stroke-width="0.5"/>
<line x1="323.5" y1="133.96" x2="541.0" y2="133.96" stroke="#fff" stroke-opacity="0.08" stroke-width="0.5"/>
<line x1="323.5" y1="139.00" x2="541.0" y2="139.00" stroke="#fff" stroke-opacity="0.08" stroke-width="0.5"/>
<line x1="323.5" y1="141.52" x2="541.0" y2="141.52" stroke="#fff" stroke-opacity="0.08" stroke-width="0.5"/>
<line x1="323.5" y1="144.04" x2="541.0" y2="144.04" stroke="#fff" stroke-opacity="0.08" stroke-width="0.5"/>
<line x1="323.5" y1="146.56" x2="541.0" y2="146.56" stroke="#fff" stroke-opacity="0.08" stroke-width="0.5"/>
<line x1="323.5" y1="149.08" x2="541.0" y2="149.08" stroke="#fff" stroke-opacity="0.08" stroke-width="0.5"/>
<line x1="323.5" y1="151.60" x2="541.0" y2="151.60" stroke="#fff" stroke-opacity="0.08" stroke-width="0.5"/>
<line x1="323.5" y1="156.64" x2="541.0" y2="156.64" stroke="#fff" stroke-opacity="0.08" stroke-width="0.5"/>
<line x1="323.5" y1="159.16" x2="541.0" y2="159.16" stroke="#fff" stroke-opacity="0.08" stroke-width="0.5"/>
<line x1="323.5" y1="161.68" x2="541.0" y2="161.68" stroke="#fff" stroke-opacity="0.08" stroke-width="0.5"/>
<line x1="323.5" y1="164.20" x2="541.0" y2="164.20" stroke="#fff" stroke-opacity="0.08" stroke-width="0.5"/>
<line x1="323.5" y1="166.72" x2="541.0" y2="166.72" stroke="#fff" stroke-opacity="0.08" stroke-width="0.5"/>
<line x1="323.5" y1="169.24" x2="541.0" y2="169.24" stroke="#fff" stroke-opacity="0.08" stroke-width="0.5"/>
<line x1="323.5" y1="174.28" x2="541.0" y2="174.28" stroke="#fff" stroke-opacity="0.08" stroke-width="0.5"/>
<line x1="323.5" y1="176.80" x2="541.0" y2="176.80" stroke="#fff" stroke-opacity="0.08" stroke-width="0.5"/>
<line x1="323.5" y1="179.32" x2="541.0" y2="179.32" stroke="#fff" stroke-opacity="0.08" stroke-width="0.5"/>
<line x1="323.5" y1="181.84" x2="541.0" y2="181.84" stroke="#fff" stroke-opacity="0.08" stroke-width="0.5"/>
<line x1="323.5" y1="184.36" x2="541.0" y2="184.36" stroke="#fff" stroke-opacity="0.08" stroke-width="0.5"/>
<line x1="323.5" y1="186.88" x2="541.0" y2="186.88" stroke="#fff" stroke-opacity="0.08" stroke-width="0.5"/>
<text transform="translate(323.50 197.50) rotate(0.3) scale(0.1 0.103)" font-size="66" text-anchor="middle" fill="#111">0</text>
<text transform="translate(354.71 197.50) rotate(0.3) scale(0.1 0.103)" font-size="66" text-anchor="middle" fill="#111">0.5</text>
<text transform="translate(385.91 197.50) rotate(0.3) scale(0.1 0.103)" font-size="66" text-anchor="middle" fill="#111">1</text>
<text transform="translate(417.12 197.50) rotate(0.3) scale(0.1 0.103)" font-size="66" text-anchor="middle" fill="#111">1.5</text>
<text transform="translate(448.32 197.50) rotate(0.3) scale(0.1 0.103)" font-size="66" text-anchor="middle" fill="#111">2</text>
<text transform="translate(479.53 197.50) rotate(0.3) scale(0.1 0.103)" font-size="66" text-anchor="middle" fill="#111">2.5</text>
<text transform="translate(510.73 197.50) rotate(0.3) scale(0.1 0.103)" font-size="66" text-anchor="middle" fill="#111">3</text>
<line x1="323.5" y1="21.82" x2="325.3" y2="21.82" stroke="#777" stroke-width="0.5"/>
<text transform="translate(321.00 25.32) rotate(0.3) scale(0.1 0.103)" font-size="66" text-anchor="end" fill="#111">50· 10<tspan dy="-30" font-size="50">-3</tspan></text>
<line x1="323.5" y1="39.46" x2="325.3" y2="39.46" stroke="#777" stroke-width="0.5"/>
<text transform="translate(321.00 42.96) rotate(0.3) scale(0.1 0.103)" font-size="66" text-anchor="end" fill="#111">25· 10<tspan dy="-30" font-size="50">-3</tspan></text>
<line x1="323.5" y1="57.10" x2="325.3" y2="57.10" stroke="#777" stroke-width="0.5"/>
<text transform="translate(321.00 60.60) rotate(0.3) scale(0.1 0.103)" font-size="66" text-anchor="end" fill="#111">10· 10<tspan dy="-30" font-size="50">-3</tspan></text>
<line x1="323.5" y1="74.74" x2="325.3" y2="74.74" stroke="#777" stroke-width="0.5"/>
<text transform="translate(321.00 78.24) rotate(0.3) scale(0.1 0.103)" font-size="66" text-anchor="end" fill="#111">7.5· 10<tspan dy="-30" font-size="50">-3</tspan></text>
<line x1="323.5" y1="92.38" x2="325.3" y2="92.38" stroke="#777" stroke-width="0.5"/>
<text transform="translate(321.00 95.88) rotate(0.3) scale(0.1 0.103)" font-size="66" text-anchor="end" fill="#111">5· 10<tspan dy="-30" font-size="50">-3</tspan></text>
<line x1="323.5" y1="110.02" x2="325.3" y2="110.02" stroke="#777" stroke-width="0.5"/>
<text transform="translate(321.00 113.52) rotate(0.3) scale(0.1 0.103)" font-size="66" text-anchor="end" fill="#111">2.5· 10<tspan dy="-30" font-size="50">-3</tspan></text>
<line x1="323.5" y1="127.66" x2="325.3" y2="127.66" stroke="#777" stroke-width="0.5"/>
<text transform="translate(321.00 131.16) rotate(0.3) scale(0.1 0.103)" font-size="66" text-anchor="end" fill="#111">2· 10<tspan dy="-30" font-size="50">-3</tspan></text>
<line x1="323.5" y1="145.30" x2="325.3" y2="145.30" stroke="#777" stroke-width="0.5"/>
<text transform="translate(321.00 148.80) rotate(0.3) scale(0.1 0.103)" font-size="66" text-anchor="end" fill="#111">1.5· 10<tspan dy="-30" font-size="50">-3</tspan></text>
<line x1="323.5" y1="162.94" x2="325.3" y2="162.94" stroke="#777" stroke-width="0.5"/>
<text transform="translate(321.00 166.44) rotate(0.3) scale(0.1 0.103)" font-size="66" text-anchor="end" fill="#111">1· 10<tspan dy="-30" font-size="50">-3</tspan></text>
<line x1="323.5" y1="180.58" x2="325.3" y2="180.58" stroke="#777" stroke-width="0.5"/>
<text transform="translate(321.00 184.08) rotate(0.3) scale(0.1 0.103)" font-size="66" text-anchor="end" fill="#111">0.5· 10<tspan dy="-30" font-size="50">-3</tspan></text>
<text transform="translate(431.85 10.70) rotate(0.3) scale(0.1 0.1002)" font-size="74" text-anchor="middle" font-weight="bold" fill="#111" stroke="#111" stroke-width="1.6">Stability Test</text>
<text transform="translate(431.75 205.70) rotate(0.3) scale(0.1 0.1002)" font-size="70" text-anchor="middle" fill="#2a2a2a" textLength="550" lengthAdjust="spacingAndGlyphs">Frequency - (rad/s)</text>
<text transform="translate(541.20 207.60) rotate(0.3) scale(0.1 0.1002)" font-size="73" text-anchor="end" fill="#1a1a1a">×10<tspan dy="-33" font-size="52">-3</tspan></text>
<text transform="translate(292.90 101.40) rotate(-90.3) scale(0.1 0.1002)" font-size="69" text-anchor="middle" fill="#1a1a1a" word-spacing="9" letter-spacing="1">ω<tspan dy="28" font-size="46">c</tspan><tspan dy="-28"> - (rad/s)</tspan></text>
<text transform="translate(364.70 231.60) rotate(0.3) scale(0.1 0.1002)" font-size="113" text-anchor="start" fill="#1c1c1c" lengthAdjust="spacingAndGlyphs" textLength="149">(<tspan font-weight="bold">b</tspan>)</text>
<text transform="translate(383.60 231.60) rotate(0.3) scale(0.1 0.1002)" font-size="113" text-anchor="start" fill="#1c1c1c" lengthAdjust="spacingAndGlyphs" textLength="524">MLP-SW</text>
<text transform="translate(438.90 231.60) rotate(0.3) scale(0.1 0.1002)" font-size="113" text-anchor="start" fill="#1c1c1c" lengthAdjust="spacingAndGlyphs" textLength="460">Stability.</text>
</g>
<g>
<line x1="182.30" y1="268.8" x2="182.30" y2="445.2" stroke="#ebebeb" stroke-width="0.5"/>
<line x1="188.56" y1="268.8" x2="188.56" y2="445.2" stroke="#f4f4f4" stroke-width="0.5"/>
<line x1="194.82" y1="268.8" x2="194.82" y2="445.2" stroke="#f4f4f4" stroke-width="0.5"/>
<line x1="201.08" y1="268.8" x2="201.08" y2="445.2" stroke="#f4f4f4" stroke-width="0.5"/>
<line x1="207.34" y1="268.8" x2="207.34" y2="445.2" stroke="#f4f4f4" stroke-width="0.5"/>
<line x1="213.61" y1="268.8" x2="213.61" y2="445.2" stroke="#ebebeb" stroke-width="0.5"/>
<line x1="219.87" y1="268.8" x2="219.87" y2="445.2" stroke="#f4f4f4" stroke-width="0.5"/>
<line x1="226.13" y1="268.8" x2="226.13" y2="445.2" stroke="#f4f4f4" stroke-width="0.5"/>
<line x1="232.39" y1="268.8" x2="232.39" y2="445.2" stroke="#f4f4f4" stroke-width="0.5"/>
<line x1="238.65" y1="268.8" x2="238.65" y2="445.2" stroke="#f4f4f4" stroke-width="0.5"/>
<line x1="244.91" y1="268.8" x2="244.91" y2="445.2" stroke="#ebebeb" stroke-width="0.5"/>
<line x1="251.17" y1="268.8" x2="251.17" y2="445.2" stroke="#f4f4f4" stroke-width="0.5"/>
<line x1="257.43" y1="268.8" x2="257.43" y2="445.2" stroke="#f4f4f4" stroke-width="0.5"/>
<line x1="263.69" y1="268.8" x2="263.69" y2="445.2" stroke="#f4f4f4" stroke-width="0.5"/>
<line x1="269.96" y1="268.8" x2="269.96" y2="445.2" stroke="#f4f4f4" stroke-width="0.5"/>
<line x1="276.22" y1="268.8" x2="276.22" y2="445.2" stroke="#ebebeb" stroke-width="0.5"/>
<line x1="282.48" y1="268.8" x2="282.48" y2="445.2" stroke="#f4f4f4" stroke-width="0.5"/>
<line x1="288.74" y1="268.8" x2="288.74" y2="445.2" stroke="#f4f4f4" stroke-width="0.5"/>
<line x1="295.00" y1="268.8" x2="295.00" y2="445.2" stroke="#f4f4f4" stroke-width="0.5"/>
<line x1="301.26" y1="268.8" x2="301.26" y2="445.2" stroke="#f4f4f4" stroke-width="0.5"/>
<line x1="307.52" y1="268.8" x2="307.52" y2="445.2" stroke="#ebebeb" stroke-width="0.5"/>
<line x1="313.78" y1="268.8" x2="313.78" y2="445.2" stroke="#f4f4f4" stroke-width="0.5"/>
<line x1="320.04" y1="268.8" x2="320.04" y2="445.2" stroke="#f4f4f4" stroke-width="0.5"/>
<line x1="326.31" y1="268.8" x2="326.31" y2="445.2" stroke="#f4f4f4" stroke-width="0.5"/>
<line x1="332.57" y1="268.8" x2="332.57" y2="445.2" stroke="#f4f4f4" stroke-width="0.5"/>
<line x1="338.83" y1="268.8" x2="338.83" y2="445.2" stroke="#ebebeb" stroke-width="0.5"/>
<line x1="345.09" y1="268.8" x2="345.09" y2="445.2" stroke="#f4f4f4" stroke-width="0.5"/>
<line x1="351.35" y1="268.8" x2="351.35" y2="445.2" stroke="#f4f4f4" stroke-width="0.5"/>
<line x1="357.61" y1="268.8" x2="357.61" y2="445.2" stroke="#f4f4f4" stroke-width="0.5"/>
<line x1="363.87" y1="268.8" x2="363.87" y2="445.2" stroke="#f4f4f4" stroke-width="0.5"/>
<line x1="370.13" y1="268.8" x2="370.13" y2="445.2" stroke="#ebebeb" stroke-width="0.5"/>
<line x1="376.39" y1="268.8" x2="376.39" y2="445.2" stroke="#f4f4f4" stroke-width="0.5"/>
<line x1="382.66" y1="268.8" x2="382.66" y2="445.2" stroke="#f4f4f4" stroke-width="0.5"/>
<line x1="388.92" y1="268.8" x2="388.92" y2="445.2" stroke="#f4f4f4" stroke-width="0.5"/>
<line x1="395.18" y1="268.8" x2="395.18" y2="445.2" stroke="#f4f4f4" stroke-width="0.5"/>
<line x1="182.3" y1="271.32" x2="400.5" y2="271.32" stroke="#f5f5f5" stroke-width="0.5"/>
<line x1="182.3" y1="273.84" x2="400.5" y2="273.84" stroke="#f5f5f5" stroke-width="0.5"/>
<line x1="182.3" y1="276.36" x2="400.5" y2="276.36" stroke="#f5f5f5" stroke-width="0.5"/>
<line x1="182.3" y1="278.88" x2="400.5" y2="278.88" stroke="#f5f5f5" stroke-width="0.5"/>
<line x1="182.3" y1="281.40" x2="400.5" y2="281.40" stroke="#f5f5f5" stroke-width="0.5"/>
<line x1="182.3" y1="283.92" x2="400.5" y2="283.92" stroke="#f5f5f5" stroke-width="0.5"/>
<line x1="182.3" y1="288.96" x2="400.5" y2="288.96" stroke="#f5f5f5" stroke-width="0.5"/>
<line x1="182.3" y1="291.48" x2="400.5" y2="291.48" stroke="#f5f5f5" stroke-width="0.5"/>
<line x1="182.3" y1="294.00" x2="400.5" y2="294.00" stroke="#f5f5f5" stroke-width="0.5"/>
<line x1="182.3" y1="296.52" x2="400.5" y2="296.52" stroke="#f5f5f5" stroke-width="0.5"/>
<line x1="182.3" y1="299.04" x2="400.5" y2="299.04" stroke="#f5f5f5" stroke-width="0.5"/>
<line x1="182.3" y1="301.56" x2="400.5" y2="301.56" stroke="#f5f5f5" stroke-width="0.5"/>
<line x1="182.3" y1="306.60" x2="400.5" y2="306.60" stroke="#f5f5f5" stroke-width="0.5"/>
<line x1="182.3" y1="309.12" x2="400.5" y2="309.12" stroke="#f5f5f5" stroke-width="0.5"/>
<line x1="182.3" y1="311.64" x2="400.5" y2="311.64" stroke="#f5f5f5" stroke-width="0.5"/>
<line x1="182.3" y1="314.16" x2="400.5" y2="314.16" stroke="#f5f5f5" stroke-width="0.5"/>
<line x1="182.3" y1="316.68" x2="400.5" y2="316.68" stroke="#f5f5f5" stroke-width="0.5"/>
<line x1="182.3" y1="319.20" x2="400.5" y2="319.20" stroke="#f5f5f5" stroke-width="0.5"/>
<line x1="182.3" y1="324.24" x2="400.5" y2="324.24" stroke="#f5f5f5" stroke-width="0.5"/>
<line x1="182.3" y1="326.76" x2="400.5" y2="326.76" stroke="#f5f5f5" stroke-width="0.5"/>
<line x1="182.3" y1="329.28" x2="400.5" y2="329.28" stroke="#f5f5f5" stroke-width="0.5"/>
<line x1="182.3" y1="331.80" x2="400.5" y2="331.80" stroke="#f5f5f5" stroke-width="0.5"/>
<line x1="182.3" y1="334.32" x2="400.5" y2="334.32" stroke="#f5f5f5" stroke-width="0.5"/>
<line x1="182.3" y1="336.84" x2="400.5" y2="336.84" stroke="#f5f5f5" stroke-width="0.5"/>
<line x1="182.3" y1="341.88" x2="400.5" y2="341.88" stroke="#f5f5f5" stroke-width="0.5"/>
<line x1="182.3" y1="344.40" x2="400.5" y2="344.40" stroke="#f5f5f5" stroke-width="0.5"/>
<line x1="182.3" y1="346.92" x2="400.5" y2="346.92" stroke="#f5f5f5" stroke-width="0.5"/>
<line x1="182.3" y1="349.44" x2="400.5" y2="349.44" stroke="#f5f5f5" stroke-width="0.5"/>
<line x1="182.3" y1="351.96" x2="400.5" y2="351.96" stroke="#f5f5f5" stroke-width="0.5"/>
<line x1="182.3" y1="354.48" x2="400.5" y2="354.48" stroke="#f5f5f5" stroke-width="0.5"/>
<line x1="182.3" y1="359.52" x2="400.5" y2="359.52" stroke="#f5f5f5" stroke-width="0.5"/>
<line x1="182.3" y1="362.04" x2="400.5" y2="362.04" stroke="#f5f5f5" stroke-width="0.5"/>
<line x1="182.3" y1="364.56" x2="400.5" y2="364.56" stroke="#f5f5f5" stroke-width="0.5"/>
<line x1="182.3" y1="367.08" x2="400.5" y2="367.08" stroke="#f5f5f5" stroke-width="0.5"/>
<line x1="182.3" y1="369.60" x2="400.5" y2="369.60" stroke="#f5f5f5" stroke-width="0.5"/>
<line x1="182.3" y1="372.12" x2="400.5" y2="372.12" stroke="#f5f5f5" stroke-width="0.5"/>
<line x1="182.3" y1="377.16" x2="400.5" y2="377.16" stroke="#f5f5f5" stroke-width="0.5"/>
<line x1="182.3" y1="379.68" x2="400.5" y2="379.68" stroke="#f5f5f5" stroke-width="0.5"/>
<line x1="182.3" y1="382.20" x2="400.5" y2="382.20" stroke="#f5f5f5" stroke-width="0.5"/>
<line x1="182.3" y1="384.72" x2="400.5" y2="384.72" stroke="#f5f5f5" stroke-width="0.5"/>
<line x1="182.3" y1="387.24" x2="400.5" y2="387.24" stroke="#f5f5f5" stroke-width="0.5"/>
<line x1="182.3" y1="389.76" x2="400.5" y2="389.76" stroke="#f5f5f5" stroke-width="0.5"/>
<line x1="182.3" y1="394.80" x2="400.5" y2="394.80" stroke="#f5f5f5" stroke-width="0.5"/>
<line x1="182.3" y1="397.32" x2="400.5" y2="397.32" stroke="#f5f5f5" stroke-width="0.5"/>
<line x1="182.3" y1="399.84" x2="400.5" y2="399.84" stroke="#f5f5f5" stroke-width="0.5"/>
<line x1="182.3" y1="402.36" x2="400.5" y2="402.36" stroke="#f5f5f5" stroke-width="0.5"/>
<line x1="182.3" y1="404.88" x2="400.5" y2="404.88" stroke="#f5f5f5" stroke-width="0.5"/>
<line x1="182.3" y1="407.40" x2="400.5" y2="407.40" stroke="#f5f5f5" stroke-width="0.5"/>
<line x1="182.3" y1="412.44" x2="400.5" y2="412.44" stroke="#f5f5f5" stroke-width="0.5"/>
<line x1="182.3" y1="414.96" x2="400.5" y2="414.96" stroke="#f5f5f5" stroke-width="0.5"/>
<line x1="182.3" y1="417.48" x2="400.5" y2="417.48" stroke="#f5f5f5" stroke-width="0.5"/>
<line x1="182.3" y1="420.00" x2="400.5" y2="420.00" stroke="#f5f5f5" stroke-width="0.5"/>
<line x1="182.3" y1="422.52" x2="400.5" y2="422.52" stroke="#f5f5f5" stroke-width="0.5"/>
<line x1="182.3" y1="425.04" x2="400.5" y2="425.04" stroke="#f5f5f5" stroke-width="0.5"/>
<line x1="182.3" y1="430.08" x2="400.5" y2="430.08" stroke="#f5f5f5" stroke-width="0.5"/>
<line x1="182.3" y1="432.60" x2="400.5" y2="432.60" stroke="#f5f5f5" stroke-width="0.5"/>
<line x1="182.3" y1="435.12" x2="400.5" y2="435.12" stroke="#f5f5f5" stroke-width="0.5"/>
<line x1="182.3" y1="437.64" x2="400.5" y2="437.64" stroke="#f5f5f5" stroke-width="0.5"/>
<line x1="182.3" y1="440.16" x2="400.5" y2="440.16" stroke="#f5f5f5" stroke-width="0.5"/>
<line x1="182.3" y1="442.68" x2="400.5" y2="442.68" stroke="#f5f5f5" stroke-width="0.5"/>
<line x1="182.3" y1="286.44" x2="400.5" y2="286.44" stroke="#c0c0c0" stroke-width="1"/>
<line x1="182.3" y1="304.08" x2="400.5" y2="304.08" stroke="#c0c0c0" stroke-width="1"/>
<line x1="182.3" y1="321.72" x2="400.5" y2="321.72" stroke="#c0c0c0" stroke-width="1"/>
<line x1="182.3" y1="339.36" x2="400.5" y2="339.36" stroke="#c0c0c0" stroke-width="1"/>
<line x1="182.3" y1="357.00" x2="400.5" y2="357.00" stroke="#c0c0c0" stroke-width="1"/>
<line x1="182.3" y1="374.64" x2="400.5" y2="374.64" stroke="#c0c0c0" stroke-width="1"/>
<line x1="182.3" y1="392.28" x2="400.5" y2="392.28" stroke="#c0c0c0" stroke-width="1"/>
<line x1="182.3" y1="409.92" x2="400.5" y2="409.92" stroke="#c0c0c0" stroke-width="1"/>
<line x1="182.3" y1="427.56" x2="400.5" y2="427.56" stroke="#c0c0c0" stroke-width="1"/>
<line x1="182.30" y1="445.2" x2="182.30" y2="443.4" stroke="#777" stroke-width="0.5"/>
<line x1="182.30" y1="268.8" x2="182.30" y2="270.6" stroke="#777" stroke-width="0.5"/>
<line x1="213.61" y1="445.2" x2="213.61" y2="443.4" stroke="#777" stroke-width="0.5"/>
<line x1="213.61" y1="268.8" x2="213.61" y2="270.6" stroke="#777" stroke-width="0.5"/>
<line x1="244.91" y1="445.2" x2="244.91" y2="443.4" stroke="#777" stroke-width="0.5"/>
<line x1="244.91" y1="268.8" x2="244.91" y2="270.6" stroke="#777" stroke-width="0.5"/>
<line x1="276.22" y1="445.2" x2="276.22" y2="443.4" stroke="#777" stroke-width="0.5"/>
<line x1="276.22" y1="268.8" x2="276.22" y2="270.6" stroke="#777" stroke-width="0.5"/>
<line x1="307.52" y1="445.2" x2="307.52" y2="443.4" stroke="#777" stroke-width="0.5"/>
<line x1="307.52" y1="268.8" x2="307.52" y2="270.6" stroke="#777" stroke-width="0.5"/>
<line x1="338.83" y1="445.2" x2="338.83" y2="443.4" stroke="#777" stroke-width="0.5"/>
<line x1="338.83" y1="268.8" x2="338.83" y2="270.6" stroke="#777" stroke-width="0.5"/>
<line x1="370.13" y1="445.2" x2="370.13" y2="443.4" stroke="#777" stroke-width="0.5"/>
<line x1="370.13" y1="268.8" x2="370.13" y2="270.6" stroke="#777" stroke-width="0.5"/>
<path d="M182.3 268.8H400.5M182.3 268.8V445.2H400.5" fill="none" stroke="#bcbcbc" stroke-width="1"/>
<rect x="251.00" y="268.80" width="1.00" height="17.64" fill="#0A72BE" fill-opacity="0.78"/>
<rect x="254.20" y="268.80" width="1.00" height="17.64" fill="#0A72BE" fill-opacity="0.78"/>
<rect x="260.50" y="268.80" width="1.50" height="17.64" fill="#0A72BE" fill-opacity="0.66"/>
<rect x="262.00" y="268.80" width="1.80" height="17.64" fill="#0A72BE" fill-opacity="1"/>
<rect x="265.50" y="268.80" width="1.70" height="17.64" fill="#0A72BE" fill-opacity="1"/>
<rect x="267.20" y="268.80" width="2.30" height="17.64" fill="#0A72BE" fill-opacity="0.66"/>
<rect x="269.50" y="268.80" width="1.50" height="17.64" fill="#0A72BE" fill-opacity="1"/>
<rect x="271.00" y="268.80" width="0.80" height="17.64" fill="#0A72BE" fill-opacity="0.48"/>
<rect x="271.80" y="268.80" width="1.20" height="17.64" fill="#0A72BE" fill-opacity="1"/>
<rect x="274.20" y="268.80" width="3.30" height="17.64" fill="#0A72BE" fill-opacity="1"/>
<rect x="279.20" y="268.80" width="1.30" height="17.64" fill="#0A72BE" fill-opacity="1"/>
<rect x="281.80" y="268.80" width="118.70" height="17.64" fill="#0A72BE" fill-opacity="1"/>
<rect x="333.00" y="268.80" width="1.20" height="17.64" fill="#fff" fill-opacity="0.7"/>
<rect x="251.00" y="286.44" width="1.00" height="17.64" fill="#DC541A" fill-opacity="0.66"/>
<rect x="254.20" y="286.44" width="1.00" height="17.64" fill="#DC541A" fill-opacity="0.72"/>
<rect x="260.50" y="286.44" width="3.30" height="17.64" fill="#DC541A" fill-opacity="0.68"/>
<rect x="265.50" y="286.44" width="5.50" height="17.64" fill="#DC541A" fill-opacity="1"/>
<rect x="271.00" y="286.44" width="0.80" height="17.64" fill="#DC541A" fill-opacity="0.6"/>
<rect x="271.80" y="286.44" width="1.20" height="17.64" fill="#DC541A" fill-opacity="1"/>
<rect x="274.20" y="286.44" width="3.80" height="17.64" fill="#DC541A" fill-opacity="1"/>
<rect x="279.20" y="286.44" width="1.30" height="17.64" fill="#DC541A" fill-opacity="1"/>
<rect x="281.80" y="286.44" width="118.70" height="17.64" fill="#DC541A" fill-opacity="1"/>
<rect x="333.00" y="286.44" width="1.20" height="17.64" fill="#fff" fill-opacity="0.7"/>
<rect x="251.00" y="304.08" width="1.00" height="17.64" fill="#EEB222" fill-opacity="0.72"/>
<rect x="254.20" y="304.08" width="1.00" height="17.64" fill="#EEB222" fill-opacity="0.72"/>
<rect x="260.50" y="304.08" width="3.30" height="17.64" fill="#EEB222" fill-opacity="0.68"/>
<rect x="265.50" y="304.08" width="1.70" height="17.64" fill="#EEB222" fill-opacity="1"/>
<rect x="267.20" y="304.08" width="2.30" height="17.64" fill="#EEB222" fill-opacity="0.83"/>
<rect x="269.50" y="304.08" width="1.50" height="17.64" fill="#EEB222" fill-opacity="1"/>
<rect x="271.00" y="304.08" width="0.80" height="17.64" fill="#EEB222" fill-opacity="0.6"/>
<rect x="271.80" y="304.08" width="1.20" height="17.64" fill="#EEB222" fill-opacity="1"/>
<rect x="274.20" y="304.08" width="3.80" height="17.64" fill="#EEB222" fill-opacity="1"/>
<rect x="279.20" y="304.08" width="1.30" height="17.64" fill="#EEB222" fill-opacity="1"/>
<rect x="281.80" y="304.08" width="118.70" height="17.64" fill="#EEB222" fill-opacity="1"/>
<rect x="333.00" y="304.08" width="1.20" height="17.64" fill="#fff" fill-opacity="0.7"/>
<rect x="251.00" y="321.72" width="1.00" height="17.64" fill="#7D2E9C" fill-opacity="0.72"/>
<rect x="254.20" y="321.72" width="1.00" height="17.64" fill="#7D2E9C" fill-opacity="0.72"/>
<rect x="260.50" y="321.72" width="3.30" height="17.64" fill="#7D2E9C" fill-opacity="0.68"/>
<rect x="265.50" y="321.72" width="1.70" height="17.64" fill="#7D2E9C" fill-opacity="1"/>
<rect x="267.20" y="321.72" width="2.30" height="17.64" fill="#7D2E9C" fill-opacity="0.72"/>
<rect x="269.50" y="321.72" width="1.50" height="17.64" fill="#7D2E9C" fill-opacity="1"/>
<rect x="271.00" y="321.72" width="0.80" height="17.64" fill="#7D2E9C" fill-opacity="0.48"/>
<rect x="271.80" y="321.72" width="1.20" height="17.64" fill="#7D2E9C" fill-opacity="1"/>
<rect x="274.20" y="321.72" width="3.80" height="17.64" fill="#7D2E9C" fill-opacity="1"/>
<rect x="279.20" y="321.72" width="1.30" height="17.64" fill="#7D2E9C" fill-opacity="1"/>
<rect x="281.80" y="321.72" width="118.70" height="17.64" fill="#7D2E9C" fill-opacity="1"/>
<rect x="333.00" y="321.72" width="1.20" height="17.64" fill="#fff" fill-opacity="0.45"/>
<rect x="251.00" y="339.36" width="1.00" height="17.64" fill="#76AB2F" fill-opacity="0.72"/>
<rect x="254.20" y="339.36" width="1.00" height="17.64" fill="#76AB2F" fill-opacity="0.78"/>
<rect x="260.50" y="339.36" width="1.50" height="17.64" fill="#76AB2F" fill-opacity="0.66"/>
<rect x="262.00" y="339.36" width="1.80" height="17.64" fill="#76AB2F" fill-opacity="0.78"/>
<rect x="265.50" y="339.36" width="1.70" height="17.64" fill="#76AB2F" fill-opacity="1"/>
<rect x="267.20" y="339.36" width="2.30" height="17.64" fill="#76AB2F" fill-opacity="0.61"/>
<rect x="269.50" y="339.36" width="1.50" height="17.64" fill="#76AB2F" fill-opacity="1"/>
<rect x="271.00" y="339.36" width="0.80" height="17.64" fill="#76AB2F" fill-opacity="0.48"/>
<rect x="271.80" y="339.36" width="1.20" height="17.64" fill="#76AB2F" fill-opacity="1"/>
<rect x="274.20" y="339.36" width="3.80" height="17.64" fill="#76AB2F" fill-opacity="1"/>
<rect x="279.20" y="339.36" width="1.30" height="17.64" fill="#76AB2F" fill-opacity="1"/>
<rect x="281.80" y="339.36" width="118.70" height="17.64" fill="#76AB2F" fill-opacity="1"/>
<rect x="333.00" y="339.36" width="1.20" height="17.64" fill="#fff" fill-opacity="0.6"/>
<rect x="251.00" y="357.00" width="1.00" height="17.64" fill="#4DBDEE" fill-opacity="0.72"/>
<rect x="254.20" y="357.00" width="1.00" height="17.64" fill="#4DBDEE" fill-opacity="0.72"/>
<rect x="260.50" y="357.00" width="3.30" height="17.64" fill="#4DBDEE" fill-opacity="0.68"/>
<rect x="265.50" y="357.00" width="1.70" height="17.64" fill="#4DBDEE" fill-opacity="1"/>
<rect x="268.20" y="357.00" width="1.30" height="17.64" fill="#4DBDEE" fill-opacity="0.6"/>
<rect x="269.50" y="357.00" width="1.50" height="17.64" fill="#4DBDEE" fill-opacity="1"/>
<rect x="271.80" y="357.00" width="1.20" height="17.64" fill="#4DBDEE" fill-opacity="1"/>
<rect x="274.20" y="357.00" width="3.80" height="17.64" fill="#4DBDEE" fill-opacity="1"/>
<rect x="279.20" y="357.00" width="1.30" height="17.64" fill="#4DBDEE" fill-opacity="1"/>
<rect x="281.80" y="357.00" width="118.70" height="17.64" fill="#4DBDEE" fill-opacity="1"/>
<rect x="333.00" y="357.00" width="1.20" height="17.64" fill="#fff" fill-opacity="0.6"/>
<rect x="251.00" y="374.64" width="1.00" height="17.64" fill="#A4142E" fill-opacity="0.72"/>
<rect x="254.20" y="374.64" width="1.00" height="17.64" fill="#A4142E" fill-opacity="0.72"/>
<rect x="260.50" y="374.64" width="3.30" height="17.64" fill="#A4142E" fill-opacity="0.68"/>
<rect x="265.50" y="374.64" width="1.30" height="17.64" fill="#A4142E" fill-opacity="1"/>
<rect x="266.80" y="374.64" width="1.40" height="17.64" fill="#A4142E" fill-opacity="0.18"/>
<rect x="268.20" y="374.64" width="1.30" height="17.64" fill="#A4142E" fill-opacity="0.6"/>
<rect x="269.50" y="374.64" width="1.50" height="17.64" fill="#A4142E" fill-opacity="1"/>
<rect x="271.00" y="374.64" width="0.80" height="17.64" fill="#A4142E" fill-opacity="0.36"/>
<rect x="271.80" y="374.64" width="1.20" height="17.64" fill="#A4142E" fill-opacity="0.72"/>
<rect x="274.20" y="374.64" width="3.80" height="17.64" fill="#A4142E" fill-opacity="1"/>
<rect x="279.20" y="374.64" width="1.30" height="17.64" fill="#A4142E" fill-opacity="1"/>
<rect x="281.80" y="374.64" width="118.70" height="17.64" fill="#A4142E" fill-opacity="1"/>
<rect x="333.00" y="374.64" width="1.20" height="17.64" fill="#fff" fill-opacity="0.6"/>
<rect x="251.00" y="392.28" width="1.00" height="17.64" fill="#1896FA" fill-opacity="0.72"/>
<rect x="254.20" y="392.28" width="1.00" height="17.64" fill="#1896FA" fill-opacity="0.72"/>
<rect x="260.50" y="392.28" width="3.30" height="17.64" fill="#1896FA" fill-opacity="0.68"/>
<rect x="265.50" y="392.28" width="1.30" height="17.64" fill="#1896FA" fill-opacity="1"/>
<rect x="268.20" y="392.28" width="1.30" height="17.64" fill="#1896FA" fill-opacity="0.48"/>
<rect x="269.50" y="392.28" width="1.50" height="17.64" fill="#1896FA" fill-opacity="1"/>
<rect x="271.80" y="392.28" width="1.20" height="17.64" fill="#1896FA" fill-opacity="1"/>
<rect x="274.20" y="392.28" width="3.80" height="17.64" fill="#1896FA" fill-opacity="1"/>
<rect x="279.20" y="392.28" width="1.30" height="17.64" fill="#1896FA" fill-opacity="1"/>
<rect x="281.80" y="392.28" width="1.00" height="17.64" fill="#1896FA" fill-opacity="0.72"/>
<rect x="282.80" y="392.28" width="117.70" height="17.64" fill="#1896FA" fill-opacity="1"/>
<rect x="333.00" y="392.28" width="1.20" height="17.64" fill="#fff" fill-opacity="0.6"/>
<rect x="251.00" y="409.92" width="1.00" height="17.64" fill="#FF6A2A" fill-opacity="0.66"/>
<rect x="254.20" y="409.92" width="1.00" height="17.64" fill="#FF6A2A" fill-opacity="0.72"/>
<rect x="260.50" y="409.92" width="1.50" height="17.64" fill="#FF6A2A" fill-opacity="0.66"/>
<rect x="262.00" y="409.92" width="1.80" height="17.64" fill="#FF6A2A" fill-opacity="1"/>
<rect x="265.50" y="409.92" width="1.30" height="17.64" fill="#FF6A2A" fill-opacity="1"/>
<rect x="268.20" y="409.92" width="1.30" height="17.64" fill="#FF6A2A" fill-opacity="0.48"/>
<rect x="269.50" y="409.92" width="1.50" height="17.64" fill="#FF6A2A" fill-opacity="1"/>
<rect x="274.20" y="409.92" width="3.80" height="17.64" fill="#FF6A2A" fill-opacity="1"/>
<rect x="279.20" y="409.92" width="1.30" height="17.64" fill="#FF6A2A" fill-opacity="1"/>
<rect x="281.80" y="409.92" width="1.00" height="17.64" fill="#FF6A2A" fill-opacity="0.6"/>
<rect x="282.80" y="409.92" width="1.70" height="17.64" fill="#FF6A2A" fill-opacity="1"/>
<rect x="284.50" y="409.92" width="1.50" height="17.64" fill="#FF6A2A" fill-opacity="0.6"/>
<rect x="286.00" y="409.92" width="114.50" height="17.64" fill="#FF6A2A" fill-opacity="1"/>
<rect x="291.00" y="409.92" width="0.80" height="17.64" fill="#fff" fill-opacity="0.6"/>
<rect x="333.00" y="409.92" width="1.20" height="17.64" fill="#fff" fill-opacity="0.7"/>
<rect x="262.00" y="427.56" width="1.80" height="17.64" fill="#62D414" fill-opacity="1"/>
<rect x="265.50" y="427.56" width="1.30" height="17.64" fill="#62D414" fill-opacity="1"/>
<rect x="268.80" y="427.56" width="0.70" height="17.64" fill="#62D414" fill-opacity="0.84"/>
<rect x="269.50" y="427.56" width="1.00" height="17.64" fill="#62D414" fill-opacity="0.36"/>
<rect x="270.50" y="427.56" width="1.00" height="17.64" fill="#62D414" fill-opacity="0.6"/>
<rect x="274.50" y="427.56" width="3.50" height="17.64" fill="#62D414" fill-opacity="1"/>
<rect x="281.00" y="427.56" width="1.00" height="17.64" fill="#62D414" fill-opacity="0.84"/>
<rect x="283.00" y="427.56" width="1.50" height="17.64" fill="#62D414" fill-opacity="0.48"/>
<rect x="286.00" y="427.56" width="1.00" height="17.64" fill="#62D414" fill-opacity="0.48"/>
<rect x="288.00" y="427.56" width="2.50" height="17.64" fill="#62D414" fill-opacity="1"/>
<rect x="292.00" y="427.56" width="108.50" height="17.64" fill="#62D414" fill-opacity="1"/>
<rect x="326.00" y="427.56" width="1.00" height="17.64" fill="#fff" fill-opacity="0.8"/>
<rect x="333.00" y="427.56" width="1.20" height="17.64" fill="#fff" fill-opacity="0.8"/>
<rect x="336.00" y="427.56" width="1.00" height="17.64" fill="#fff" fill-opacity="0.8"/>
<rect x="349.00" y="427.56" width="1.00" height="17.64" fill="#fff" fill-opacity="0.7"/>
<rect x="381.00" y="427.56" width="1.20" height="17.64" fill="#fff" fill-opacity="0.8"/>
<rect x="384.00" y="427.56" width="1.40" height="17.64" fill="#fff" fill-opacity="0.8"/>
<rect x="399.30" y="427.56" width="1.20" height="17.64" fill="#fff" fill-opacity="0.5"/>
<line x1="188.56" y1="268.8" x2="188.56" y2="445.2" stroke="#fff" stroke-opacity="0.09" stroke-width="0.5"/>
<line x1="194.82" y1="268.8" x2="194.82" y2="445.2" stroke="#fff" stroke-opacity="0.09" stroke-width="0.5"/>
<line x1="201.08" y1="268.8" x2="201.08" y2="445.2" stroke="#fff" stroke-opacity="0.09" stroke-width="0.5"/>
<line x1="207.34" y1="268.8" x2="207.34" y2="445.2" stroke="#fff" stroke-opacity="0.09" stroke-width="0.5"/>
<line x1="213.61" y1="268.8" x2="213.61" y2="445.2" stroke="#fff" stroke-opacity="0.14" stroke-width="0.5"/>
<line x1="219.87" y1="268.8" x2="219.87" y2="445.2" stroke="#fff" stroke-opacity="0.09" stroke-width="0.5"/>
<line x1="226.13" y1="268.8" x2="226.13" y2="445.2" stroke="#fff" stroke-opacity="0.09" stroke-width="0.5"/>
<line x1="232.39" y1="268.8" x2="232.39" y2="445.2" stroke="#fff" stroke-opacity="0.09" stroke-width="0.5"/>
<line x1="238.65" y1="268.8" x2="238.65" y2="445.2" stroke="#fff" stroke-opacity="0.09" stroke-width="0.5"/>
<line x1="244.91" y1="268.8" x2="244.91" y2="445.2" stroke="#fff" stroke-opacity="0.14" stroke-width="0.5"/>
<line x1="251.17" y1="268.8" x2="251.17" y2="445.2" stroke="#fff" stroke-opacity="0.09" stroke-width="0.5"/>
<line x1="257.43" y1="268.8" x2="257.43" y2="445.2" stroke="#fff" stroke-opacity="0.09" stroke-width="0.5"/>
<line x1="263.69" y1="268.8" x2="263.69" y2="445.2" stroke="#fff" stroke-opacity="0.09" stroke-width="0.5"/>
<line x1="269.96" y1="268.8" x2="269.96" y2="445.2" stroke="#fff" stroke-opacity="0.09" stroke-width="0.5"/>
<line x1="276.22" y1="268.8" x2="276.22" y2="445.2" stroke="#fff" stroke-opacity="0.14" stroke-width="0.5"/>
<line x1="282.48" y1="268.8" x2="282.48" y2="445.2" stroke="#fff" stroke-opacity="0.09" stroke-width="0.5"/>
<line x1="288.74" y1="268.8" x2="288.74" y2="445.2" stroke="#fff" stroke-opacity="0.09" stroke-width="0.5"/>
<line x1="295.00" y1="268.8" x2="295.00" y2="445.2" stroke="#fff" stroke-opacity="0.09" stroke-width="0.5"/>
<line x1="301.26" y1="268.8" x2="301.26" y2="445.2" stroke="#fff" stroke-opacity="0.09" stroke-width="0.5"/>
<line x1="307.52" y1="268.8" x2="307.52" y2="445.2" stroke="#fff" stroke-opacity="0.14" stroke-width="0.5"/>
<line x1="313.78" y1="268.8" x2="313.78" y2="445.2" stroke="#fff" stroke-opacity="0.09" stroke-width="0.5"/>
<line x1="320.04" y1="268.8" x2="320.04" y2="445.2" stroke="#fff" stroke-opacity="0.09" stroke-width="0.5"/>
<line x1="326.31" y1="268.8" x2="326.31" y2="445.2" stroke="#fff" stroke-opacity="0.09" stroke-width="0.5"/>
<line x1="332.57" y1="268.8" x2="332.57" y2="445.2" stroke="#fff" stroke-opacity="0.09" stroke-width="0.5"/>
<line x1="338.83" y1="268.8" x2="338.83" y2="445.2" stroke="#fff" stroke-opacity="0.14" stroke-width="0.5"/>
<line x1="345.09" y1="268.8" x2="345.09" y2="445.2" stroke="#fff" stroke-opacity="0.09" stroke-width="0.5"/>
<line x1="351.35" y1="268.8" x2="351.35" y2="445.2" stroke="#fff" stroke-opacity="0.09" stroke-width="0.5"/>
<line x1="357.61" y1="268.8" x2="357.61" y2="445.2" stroke="#fff" stroke-opacity="0.09" stroke-width="0.5"/>
<line x1="363.87" y1="268.8" x2="363.87" y2="445.2" stroke="#fff" stroke-opacity="0.09" stroke-width="0.5"/>
<line x1="370.13" y1="268.8" x2="370.13" y2="445.2" stroke="#fff" stroke-opacity="0.14" stroke-width="0.5"/>
<line x1="376.39" y1="268.8" x2="376.39" y2="445.2" stroke="#fff" stroke-opacity="0.09" stroke-width="0.5"/>
<line x1="382.66" y1="268.8" x2="382.66" y2="445.2" stroke="#fff" stroke-opacity="0.09" stroke-width="0.5"/>
<line x1="388.92" y1="268.8" x2="388.92" y2="445.2" stroke="#fff" stroke-opacity="0.09" stroke-width="0.5"/>
<line x1="395.18" y1="268.8" x2="395.18" y2="445.2" stroke="#fff" stroke-opacity="0.09" stroke-width="0.5"/>
<line x1="182.3" y1="271.32" x2="400.5" y2="271.32" stroke="#fff" stroke-opacity="0.08" stroke-width="0.5"/>
<line x1="182.3" y1="273.84" x2="400.5" y2="273.84" stroke="#fff" stroke-opacity="0.08" stroke-width="0.5"/>
<line x1="182.3" y1="276.36" x2="400.5" y2="276.36" stroke="#fff" stroke-opacity="0.08" stroke-width="0.5"/>
<line x1="182.3" y1="278.88" x2="400.5" y2="278.88" stroke="#fff" stroke-opacity="0.08" stroke-width="0.5"/>
<line x1="182.3" y1="281.40" x2="400.5" y2="281.40" stroke="#fff" stroke-opacity="0.08" stroke-width="0.5"/>
<line x1="182.3" y1="283.92" x2="400.5" y2="283.92" stroke="#fff" stroke-opacity="0.08" stroke-width="0.5"/>
<line x1="182.3" y1="288.96" x2="400.5" y2="288.96" stroke="#fff" stroke-opacity="0.08" stroke-width="0.5"/>
<line x1="182.3" y1="291.48" x2="400.5" y2="291.48" stroke="#fff" stroke-opacity="0.08" stroke-width="0.5"/>
<line x1="182.3" y1="294.00" x2="400.5" y2="294.00" stroke="#fff" stroke-opacity="0.08" stroke-width="0.5"/>
<line x1="182.3" y1="296.52" x2="400.5" y2="296.52" stroke="#fff" stroke-opacity="0.08" stroke-width="0.5"/>
<line x1="182.3" y1="299.04" x2="400.5" y2="299.04" stroke="#fff" stroke-opacity="0.08" stroke-width="0.5"/>
<line x1="182.3" y1="301.56" x2="400.5" y2="301.56" stroke="#fff" stroke-opacity="0.08" stroke-width="0.5"/>
<line x1="182.3" y1="306.60" x2="400.5" y2="306.60" stroke="#fff" stroke-opacity="0.08" stroke-width="0.5"/>
<line x1="182.3" y1="309.12" x2="400.5" y2="309.12" stroke="#fff" stroke-opacity="0.08" stroke-width="0.5"/>
<line x1="182.3" y1="311.64" x2="400.5" y2="311.64" stroke="#fff" stroke-opacity="0.08" stroke-width="0.5"/>
<line x1="182.3" y1="314.16" x2="400.5" y2="314.16" stroke="#fff" stroke-opacity="0.08" stroke-width="0.5"/>
<line x1="182.3" y1="316.68" x2="400.5" y2="316.68" stroke="#fff" stroke-opacity="0.08" stroke-width="0.5"/>
<line x1="182.3" y1="319.20" x2="400.5" y2="319.20" stroke="#fff" stroke-opacity="0.08" stroke-width="0.5"/>
<line x1="182.3" y1="324.24" x2="400.5" y2="324.24" stroke="#fff" stroke-opacity="0.08" stroke-width="0.5"/>
<line x1="182.3" y1="326.76" x2="400.5" y2="326.76" stroke="#fff" stroke-opacity="0.08" stroke-width="0.5"/>
<line x1="182.3" y1="329.28" x2="400.5" y2="329.28" stroke="#fff" stroke-opacity="0.08" stroke-width="0.5"/>
<line x1="182.3" y1="331.80" x2="400.5" y2="331.80" stroke="#fff" stroke-opacity="0.08" stroke-width="0.5"/>
<line x1="182.3" y1="334.32" x2="400.5" y2="334.32" stroke="#fff" stroke-opacity="0.08" stroke-width="0.5"/>
<line x1="182.3" y1="336.84" x2="400.5" y2="336.84" stroke="#fff" stroke-opacity="0.08" stroke-width="0.5"/>
<line x1="182.3" y1="341.88" x2="400.5" y2="341.88" stroke="#fff" stroke-opacity="0.08" stroke-width="0.5"/>
<line x1="182.3" y1="344.40" x2="400.5" y2="344.40" stroke="#fff" stroke-opacity="0.08" stroke-width="0.5"/>
<line x1="182.3" y1="346.92" x2="400.5" y2="346.92" stroke="#fff" stroke-opacity="0.08" stroke-width="0.5"/>
<line x1="182.3" y1="349.44" x2="400.5" y2="349.44" stroke="#fff" stroke-opacity="0.08" stroke-width="0.5"/>
<line x1="182.3" y1="351.96" x2="400.5" y2="351.96" stroke="#fff" stroke-opacity="0.08" stroke-width="0.5"/>
<line x1="182.3" y1="354.48" x2="400.5" y2="354.48" stroke="#fff" stroke-opacity="0.08" stroke-width="0.5"/>
<line x1="182.3" y1="359.52" x2="400.5" y2="359.52" stroke="#fff" stroke-opacity="0.08" stroke-width="0.5"/>
<line x1="182.3" y1="362.04" x2="400.5" y2="362.04" stroke="#fff" stroke-opacity="0.08" stroke-width="0.5"/>
<line x1="182.3" y1="364.56" x2="400.5" y2="364.56" stroke="#fff" stroke-opacity="0.08" stroke-width="0.5"/>
<line x1="182.3" y1="367.08" x2="400.5" y2="367.08" stroke="#fff" stroke-opacity="0.08" stroke-width="0.5"/>
<line x1="182.3" y1="369.60" x2="400.5" y2="369.60" stroke="#fff" stroke-opacity="0.08" stroke-width="0.5"/>
<line x1="182.3" y1="372.12" x2="400.5" y2="372.12" stroke="#fff" stroke-opacity="0.08" stroke-width="0.5"/>
<line x1="182.3" y1="377.16" x2="400.5" y2="377.16" stroke="#fff" stroke-opacity="0.08" stroke-width="0.5"/>
<line x1="182.3" y1="379.68" x2="400.5" y2="379.68" stroke="#fff" stroke-opacity="0.08" stroke-width="0.5"/>
<line x1="182.3" y1="382.20" x2="400.5" y2="382.20" stroke="#fff" stroke-opacity="0.08" stroke-width="0.5"/>
<line x1="182.3" y1="384.72" x2="400.5" y2="384.72" stroke="#fff" stroke-opacity="0.08" stroke-width="0.5"/>
<line x1="182.3" y1="387.24" x2="400.5" y2="387.24" stroke="#fff" stroke-opacity="0.08" stroke-width="0.5"/>
<line x1="182.3" y1="389.76" x2="400.5" y2="389.76" stroke="#fff" stroke-opacity="0.08" stroke-width="0.5"/>
<line x1="182.3" y1="394.80" x2="400.5" y2="394.80" stroke="#fff" stroke-opacity="0.08" stroke-width="0.5"/>
<line x1="182.3" y1="397.32" x2="400.5" y2="397.32" stroke="#fff" stroke-opacity="0.08" stroke-width="0.5"/>
<line x1="182.3" y1="399.84" x2="400.5" y2="399.84" stroke="#fff" stroke-opacity="0.08" stroke-width="0.5"/>
<line x1="182.3" y1="402.36" x2="400.5" y2="402.36" stroke="#fff" stroke-opacity="0.08" stroke-width="0.5"/>
<line x1="182.3" y1="404.88" x2="400.5" y2="404.88" stroke="#fff" stroke-opacity="0.08" stroke-width="0.5"/>
<line x1="182.3" y1="407.40" x2="400.5" y2="407.40" stroke="#fff" stroke-opacity="0.08" stroke-width="0.5"/>
<line x1="182.3" y1="412.44" x2="400.5" y2="412.44" stroke="#fff" stroke-opacity="0.08" stroke-width="0.5"/>
<line x1="182.3" y1="414.96" x2="400.5" y2="414.96" stroke="#fff" stroke-opacity="0.08" stroke-width="0.5"/>
<line x1="182.3" y1="417.48" x2="400.5" y2="417.48" stroke="#fff" stroke-opacity="0.08" stroke-width="0.5"/>
<line x1="182.3" y1="420.00" x2="400.5" y2="420.00" stroke="#fff" stroke-opacity="0.08" stroke-width="0.5"/>
<line x1="182.3" y1="422.52" x2="400.5" y2="422.52" stroke="#fff" stroke-opacity="0.08" stroke-width="0.5"/>
<line x1="182.3" y1="425.04" x2="400.5" y2="425.04" stroke="#fff" stroke-opacity="0.08" stroke-width="0.5"/>
<line x1="182.3" y1="430.08" x2="400.5" y2="430.08" stroke="#fff" stroke-opacity="0.08" stroke-width="0.5"/>
<line x1="182.3" y1="432.60" x2="400.5" y2="432.60" stroke="#fff" stroke-opacity="0.08" stroke-width="0.5"/>
<line x1="182.3" y1="435.12" x2="400.5" y2="435.12" stroke="#fff" stroke-opacity="0.08" stroke-width="0.5"/>
<line x1="182.3" y1="437.64" x2="400.5" y2="437.64" stroke="#fff" stroke-opacity="0.08" stroke-width="0.5"/>
<line x1="182.3" y1="440.16" x2="400.5" y2="440.16" stroke="#fff" stroke-opacity="0.08" stroke-width="0.5"/>
<line x1="182.3" y1="442.68" x2="400.5" y2="442.68" stroke="#fff" stroke-opacity="0.08" stroke-width="0.5"/>
<text transform="translate(182.30 453.30) rotate(0.3) scale(0.1 0.103)" font-size="66" text-anchor="middle" fill="#111">0</text>
<text transform="translate(213.61 453.30) rotate(0.3) scale(0.1 0.103)" font-size="66" text-anchor="middle" fill="#111">0.5</text>
<text transform="translate(244.91 453.30) rotate(0.3) scale(0.1 0.103)" font-size="66" text-anchor="middle" fill="#111">1</text>
<text transform="translate(276.22 453.30) rotate(0.3) scale(0.1 0.103)" font-size="66" text-anchor="middle" fill="#111">1.5</text>
<text transform="translate(307.52 453.30) rotate(0.3) scale(0.1 0.103)" font-size="66" text-anchor="middle" fill="#111">2</text>
<text transform="translate(338.83 453.30) rotate(0.3) scale(0.1 0.103)" font-size="66" text-anchor="middle" fill="#111">2.5</text>
<text transform="translate(370.13 453.30) rotate(0.3) scale(0.1 0.103)" font-size="66" text-anchor="middle" fill="#111">3</text>
<line x1="182.3" y1="277.62" x2="184.10000000000002" y2="277.62" stroke="#777" stroke-width="0.5"/>
<text transform="translate(179.80 281.12) rotate(0.3) scale(0.1 0.103)" font-size="66" text-anchor="end" fill="#111">50· 10<tspan dy="-30" font-size="50">-3</tspan></text>
<line x1="182.3" y1="295.26" x2="184.10000000000002" y2="295.26" stroke="#777" stroke-width="0.5"/>
<text transform="translate(179.80 298.76) rotate(0.3) scale(0.1 0.103)" font-size="66" text-anchor="end" fill="#111">25· 10<tspan dy="-30" font-size="50">-3</tspan></text>
<line x1="182.3" y1="312.90" x2="184.10000000000002" y2="312.90" stroke="#777" stroke-width="0.5"/>
<text transform="translate(179.80 316.40) rotate(0.3) scale(0.1 0.103)" font-size="66" text-anchor="end" fill="#111">10· 10<tspan dy="-30" font-size="50">-3</tspan></text>
<line x1="182.3" y1="330.54" x2="184.10000000000002" y2="330.54" stroke="#777" stroke-width="0.5"/>
<text transform="translate(179.80 334.04) rotate(0.3) scale(0.1 0.103)" font-size="66" text-anchor="end" fill="#111">7.5· 10<tspan dy="-30" font-size="50">-3</tspan></text>
<line x1="182.3" y1="348.18" x2="184.10000000000002" y2="348.18" stroke="#777" stroke-width="0.5"/>
<text transform="translate(179.80 351.68) rotate(0.3) scale(0.1 0.103)" font-size="66" text-anchor="end" fill="#111">5· 10<tspan dy="-30" font-size="50">-3</tspan></text>
<line x1="182.3" y1="365.82" x2="184.10000000000002" y2="365.82" stroke="#777" stroke-width="0.5"/>
<text transform="translate(179.80 369.32) rotate(0.3) scale(0.1 0.103)" font-size="66" text-anchor="end" fill="#111">2.5· 10<tspan dy="-30" font-size="50">-3</tspan></text>
<line x1="182.3" y1="383.46" x2="184.10000000000002" y2="383.46" stroke="#777" stroke-width="0.5"/>
<text transform="translate(179.80 386.96) rotate(0.3) scale(0.1 0.103)" font-size="66" text-anchor="end" fill="#111">2· 10<tspan dy="-30" font-size="50">-3</tspan></text>
<line x1="182.3" y1="401.10" x2="184.10000000000002" y2="401.10" stroke="#777" stroke-width="0.5"/>
<text transform="translate(179.80 404.60) rotate(0.3) scale(0.1 0.103)" font-size="66" text-anchor="end" fill="#111">1.5· 10<tspan dy="-30" font-size="50">-3</tspan></text>
<line x1="182.3" y1="418.74" x2="184.10000000000002" y2="418.74" stroke="#777" stroke-width="0.5"/>
<text transform="translate(179.80 422.24) rotate(0.3) scale(0.1 0.103)" font-size="66" text-anchor="end" fill="#111">1· 10<tspan dy="-30" font-size="50">-3</tspan></text>
<line x1="182.3" y1="436.38" x2="184.10000000000002" y2="436.38" stroke="#777" stroke-width="0.5"/>
<text transform="translate(179.80 439.88) rotate(0.3) scale(0.1 0.103)" font-size="66" text-anchor="end" fill="#111">0.5· 10<tspan dy="-30" font-size="50">-3</tspan></text>
<text transform="translate(291.00 266.50) rotate(0.3) scale(0.1 0.1002)" font-size="74" text-anchor="middle" font-weight="bold" fill="#111" stroke="#111" stroke-width="1.6">Stability Test</text>
<text transform="translate(290.90 461.50) rotate(0.3) scale(0.1 0.1002)" font-size="70" text-anchor="middle" fill="#2a2a2a" textLength="550" lengthAdjust="spacingAndGlyphs">Frequency - (rad/s)</text>
<text transform="translate(400.70 463.40) rotate(0.3) scale(0.1 0.1002)" font-size="73" text-anchor="end" fill="#1a1a1a">×10<tspan dy="-33" font-size="52">-3</tspan></text>
<text transform="translate(151.70 357.20) rotate(-90.3) scale(0.1 0.1002)" font-size="69" text-anchor="middle" fill="#1a1a1a" word-spacing="9" letter-spacing="1">ω<tspan dy="28" font-size="46">c</tspan><tspan dy="-28"> - (rad/s)</tspan></text>
<text transform="translate(221.80 486.90) rotate(0.3) scale(0.1 0.1002)" font-size="113" text-anchor="start" fill="#1c1c1c" lengthAdjust="spacingAndGlyphs" textLength="142">(<tspan font-weight="bold">c</tspan>)</text>
<text transform="translate(238.70 486.90) rotate(0.3) scale(0.1 0.1002)" font-size="113" text-anchor="start" fill="#1c1c1c" lengthAdjust="spacingAndGlyphs" textLength="575">LSTM-SW</text>
<text transform="translate(299.90 486.90) rotate(0.3) scale(0.1 0.1002)" font-size="113" text-anchor="start" fill="#1c1c1c" lengthAdjust="spacingAndGlyphs" textLength="465">Stability.</text>
</g>
</svg>
</body></html>
